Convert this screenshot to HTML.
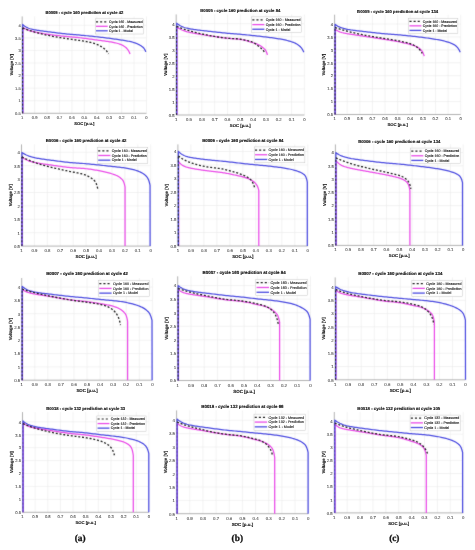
<!DOCTYPE html>
<html><head><meta charset="utf-8"><title>SOC prediction plots</title>
<style>html,body{margin:0;padding:0;background:#fff;width:475px;height:550px;overflow:hidden}svg{display:block}</style>
</head><body>
<svg width="475" height="550" viewBox="0 0 475 550" text-rendering="geometricPrecision" font-family="'Liberation Sans', Arial, sans-serif">
<defs><filter id="bl" x="0" y="0" width="475" height="550" filterUnits="userSpaceOnUse" color-interpolation-filters="sRGB"><feConvolveMatrix order="3" kernelMatrix="1 2 1 2 24 2 1 2 1" divisor="36" edgeMode="duplicate"/></filter></defs>
<rect width="475" height="550" fill="#fff"/>
<g filter="url(#bl)">
<g><path d="M34.63,113.30V16.40M47.06,113.30V16.40M59.49,113.30V16.40M71.92,113.30V16.40M84.35,113.30V16.40M96.78,113.30V16.40M109.21,113.30V16.40M121.64,113.30V16.40M134.07,113.30V16.40M146.50,113.30V16.40M22.20,100.73H146.50M22.20,88.16H146.50M22.20,75.59H146.50M22.20,63.01H146.50M22.20,50.44H146.50M22.20,37.87H146.50M22.20,25.30H146.50" stroke="#e6e6e6" stroke-width="0.50" fill="none"/><path d="M22.20,16.40V113.30H146.50" stroke="#808080" stroke-width="0.60" fill="none"/><path d="M22.95,113.30 L22.95,27.71 L22.97,27.72 L23.02,27.75 L23.12,27.80 L23.25,27.87 L23.42,27.96 L23.62,28.07 L23.86,28.19 L24.14,28.33 L24.45,28.49 L24.80,28.66 L25.19,28.84 L25.61,29.03 L26.07,29.23 L26.56,29.44 L27.09,29.65 L27.65,29.87 L28.25,30.09 L28.88,30.31 L29.54,30.54 L30.24,30.76 L30.97,30.98 L31.73,31.20 L32.52,31.42 L33.34,31.63 L34.19,31.85 L35.07,32.05 L35.98,32.26 L36.92,32.46 L37.89,32.65 L38.88,32.84 L39.90,33.03 L40.94,33.22 L42.01,33.40 L43.10,33.58 L44.22,33.75 L45.36,33.93 L46.52,34.10 L47.70,34.28 L48.90,34.45 L50.12,34.62 L51.36,34.78 L52.62,34.95 L53.89,35.11 L55.18,35.28 L56.48,35.43 L57.80,35.59 L59.13,35.74 L60.47,35.89 L61.83,36.03 L63.19,36.17 L64.56,36.30 L65.95,36.43 L67.34,36.55 L68.73,36.67 L70.13,36.79 L71.54,36.90 L72.94,37.03 L74.36,37.15 L75.77,37.29 L77.18,37.43 L78.59,37.59 L80.01,37.75 L81.41,37.92 L82.82,38.09 L84.22,38.27 L85.61,38.46 L87.00,38.65 L88.39,38.84 L89.76,39.02 L91.12,39.21 L92.48,39.39 L93.82,39.58 L95.15,39.76 L96.47,39.94 L97.77,40.11 L99.06,40.28 L100.33,40.45 L101.59,40.62 L102.83,40.78 L104.05,40.95 L105.25,41.12 L106.43,41.28 L107.59,41.45 L108.73,41.62 L109.85,41.79 L110.94,41.96 L112.01,42.15 L113.05,42.35 L114.07,42.56 L115.06,42.78 L116.03,43.01 L116.97,43.25 L117.88,43.50 L118.76,43.77 L119.61,44.05 L120.43,44.36 L121.22,44.68 L121.98,45.02 L122.71,45.38 L123.41,45.76 L124.07,46.17 L124.70,46.63 L125.30,47.11 L125.86,47.58 L126.39,48.06 L126.88,48.56 L127.34,49.07 L127.76,49.60 L128.15,50.15 L128.50,50.71 L128.81,51.28 L129.09,51.83 L129.33,52.35 L129.53,52.84 L129.70,53.27 L129.83,53.63 L129.93,53.90 L129.98,54.06 L130.00,54.12" stroke="#ea4ae8" stroke-width="1.25" fill="none" stroke-linejoin="round"/><path d="M22.70,113.30 L22.70,24.47 L22.72,24.49 L22.79,24.56 L22.89,24.66 L23.04,24.80 L23.24,24.97 L23.47,25.17 L23.75,25.41 L24.07,25.66 L24.43,25.93 L24.83,26.22 L25.28,26.51 L25.76,26.81 L26.29,27.11 L26.86,27.40 L27.46,27.69 L28.11,27.97 L28.80,28.24 L29.52,28.50 L30.28,28.75 L31.08,28.98 L31.92,29.21 L32.79,29.41 L33.70,29.61 L34.65,29.80 L35.63,29.98 L36.64,30.15 L37.69,30.31 L38.76,30.47 L39.87,30.63 L41.02,30.79 L42.19,30.94 L43.39,31.10 L44.62,31.26 L45.87,31.43 L47.16,31.59 L48.47,31.76 L49.80,31.94 L51.16,32.12 L52.54,32.30 L53.95,32.48 L55.37,32.66 L56.81,32.85 L58.28,33.03 L59.76,33.21 L61.26,33.39 L62.78,33.56 L64.31,33.72 L65.85,33.87 L67.41,34.02 L68.97,34.16 L70.55,34.30 L72.14,34.43 L73.74,34.57 L75.34,34.70 L76.96,34.85 L78.57,34.99 L80.19,35.14 L81.81,35.29 L83.44,35.44 L85.06,35.60 L86.69,35.75 L88.31,35.91 L89.93,36.07 L91.54,36.24 L93.16,36.40 L94.76,36.58 L96.36,36.75 L97.95,36.93 L99.53,37.11 L101.09,37.29 L102.65,37.48 L104.19,37.67 L105.72,37.86 L107.24,38.05 L108.74,38.24 L110.22,38.44 L111.69,38.63 L113.13,38.83 L114.55,39.03 L115.96,39.22 L117.34,39.42 L118.70,39.62 L120.03,39.82 L121.34,40.03 L122.63,40.23 L123.88,40.43 L125.11,40.63 L126.31,40.83 L127.48,41.04 L128.63,41.26 L129.74,41.48 L130.81,41.72 L131.86,41.97 L132.87,42.24 L133.85,42.53 L134.80,42.84 L135.71,43.17 L136.58,43.53 L137.42,43.88 L138.22,44.24 L138.98,44.60 L139.70,45.00 L140.39,45.42 L141.04,45.85 L141.64,46.26 L142.21,46.66 L142.74,47.06 L143.22,47.49 L143.67,47.96 L144.07,48.48 L144.43,49.03 L144.75,49.57 L145.03,50.10 L145.26,50.60 L145.46,51.04 L145.61,51.41 L145.71,51.69 L145.78,51.86 L145.80,51.92" stroke="#4a4ae0" stroke-width="1.25" fill="none" stroke-linejoin="round"/><path d="M22.60,113.30V27.95" stroke="#1e1e1e" stroke-width="1.00" fill="none" stroke-dasharray="2.0,1.8" stroke-opacity="0.95"/><path d="M22.70,27.95 L22.71,27.95 L22.76,27.97 L22.83,28.00 L22.94,28.05 L23.07,28.10 L23.24,28.17 L23.43,28.25 L23.65,28.34 L23.91,28.44 L24.19,28.56 L24.50,28.68 L24.83,28.81 L25.20,28.95 L25.60,29.10 L26.02,29.26 L26.47,29.43 L26.95,29.61 L27.45,29.79 L27.98,29.97 L28.54,30.17 L29.13,30.37 L29.73,30.57 L30.37,30.78 L31.03,30.99 L31.71,31.20 L32.42,31.42 L33.14,31.64 L33.90,31.86 L34.67,32.08 L35.47,32.31 L36.28,32.53 L37.12,32.76 L37.98,32.99 L38.85,33.22 L39.75,33.45 L40.66,33.67 L41.59,33.90 L42.54,34.13 L43.50,34.36 L44.48,34.59 L45.47,34.81 L46.48,35.03 L47.50,35.26 L48.53,35.48 L49.58,35.69 L50.63,35.91 L51.70,36.12 L52.77,36.33 L53.86,36.54 L54.95,36.74 L56.05,36.94 L57.16,37.13 L58.27,37.33 L59.39,37.52 L60.52,37.70 L61.64,37.88 L62.77,38.06 L63.90,38.23 L65.03,38.40 L66.17,38.57 L67.30,38.74 L68.43,38.90 L69.56,39.06 L70.68,39.22 L71.81,39.37 L72.93,39.53 L74.04,39.68 L75.15,39.84 L76.25,39.99 L77.34,40.15 L78.43,40.31 L79.50,40.47 L80.57,40.64 L81.62,40.80 L82.67,40.97 L83.70,41.14 L84.72,41.31 L85.73,41.49 L86.72,41.67 L87.70,41.85 L88.66,42.05 L89.61,42.25 L90.54,42.46 L91.45,42.68 L92.35,42.91 L93.22,43.15 L94.08,43.40 L94.92,43.66 L95.73,43.93 L96.53,44.22 L97.30,44.52 L98.06,44.85 L98.78,45.20 L99.49,45.57 L100.17,45.96 L100.83,46.36 L101.47,46.75 L102.07,47.14 L102.66,47.54 L103.22,47.94 L103.75,48.34 L104.25,48.72 L104.73,49.09 L105.18,49.45 L105.60,49.84 L106.00,50.25 L106.37,50.67 L106.70,51.10 L107.01,51.52 L107.29,51.93 L107.55,52.32 L107.77,52.68 L107.96,53.00 L108.13,53.29 L108.26,53.54 L108.37,53.73 L108.44,53.88 L108.49,53.96 L108.50,53.99" stroke="#1e1e1e" stroke-width="1.30" fill="none" stroke-linejoin="round" stroke-dasharray="2.0,1.8"/><rect x="95.30" y="18.80" width="48.40" height="15.20" fill="#fff" stroke="#bdbdbd" stroke-width="0.45"/><path d="M96.00,21.80H107.70" stroke="#1e1e1e" stroke-width="1.20" stroke-dasharray="2.1,2.0"/><path d="M96.00,26.30H107.70" stroke="#ea4ae8" stroke-width="1.30"/><path d="M96.00,30.80H107.70" stroke="#4a4ae0" stroke-width="1.30"/></g>
<g><path d="M189.02,115.00V14.40M201.84,115.00V14.40M214.66,115.00V14.40M227.48,115.00V14.40M240.30,115.00V14.40M253.12,115.00V14.40M265.94,115.00V14.40M278.76,115.00V14.40M291.58,115.00V14.40M304.40,115.00V14.40M176.20,101.96H304.40M176.20,88.91H304.40M176.20,75.87H304.40M176.20,62.83H304.40M176.20,49.79H304.40M176.20,36.74H304.40M176.20,23.70H304.40" stroke="#e6e6e6" stroke-width="0.50" fill="none"/><path d="M176.20,14.40V115.00H304.40" stroke="#808080" stroke-width="0.60" fill="none"/><path d="M176.95,115.00 L176.95,27.02 L176.97,27.04 L177.01,27.07 L177.09,27.13 L177.20,27.22 L177.34,27.32 L177.52,27.45 L177.72,27.60 L177.95,27.76 L178.22,27.94 L178.52,28.14 L178.84,28.35 L179.20,28.56 L179.59,28.79 L180.00,29.02 L180.45,29.26 L180.92,29.50 L181.43,29.74 L181.96,29.99 L182.52,30.23 L183.11,30.46 L183.72,30.70 L184.37,30.93 L185.03,31.15 L185.73,31.37 L186.45,31.58 L187.19,31.79 L187.96,31.99 L188.75,32.18 L189.57,32.37 L190.41,32.56 L191.27,32.74 L192.15,32.91 L193.05,33.08 L193.98,33.25 L194.92,33.41 L195.88,33.58 L196.86,33.74 L197.86,33.90 L198.88,34.06 L199.91,34.23 L200.95,34.39 L202.02,34.55 L203.09,34.72 L204.18,34.89 L205.28,35.06 L206.40,35.24 L207.52,35.41 L208.65,35.59 L209.80,35.77 L210.95,35.95 L212.11,36.13 L213.28,36.32 L214.45,36.50 L215.63,36.68 L216.81,36.86 L218.00,37.04 L219.19,37.22 L220.38,37.39 L221.58,37.55 L222.77,37.71 L223.97,37.86 L225.16,38.00 L226.35,38.12 L227.54,38.24 L228.72,38.36 L229.90,38.47 L231.07,38.56 L232.24,38.64 L233.40,38.70 L234.55,38.76 L235.70,38.83 L236.83,38.92 L237.95,39.04 L239.07,39.18 L240.17,39.35 L241.26,39.54 L242.33,39.75 L243.40,39.97 L244.44,40.21 L245.47,40.46 L246.49,40.72 L247.49,41.00 L248.47,41.29 L249.43,41.59 L250.37,41.90 L251.30,42.20 L252.20,42.49 L253.08,42.77 L253.94,43.04 L254.78,43.31 L255.60,43.59 L256.39,43.88 L257.16,44.18 L257.90,44.50 L258.62,44.83 L259.32,45.18 L259.98,45.54 L260.63,45.91 L261.24,46.31 L261.83,46.73 L262.39,47.17 L262.92,47.62 L263.43,48.06 L263.90,48.48 L264.35,48.87 L264.76,49.26 L265.15,49.69 L265.51,50.18 L265.83,50.74 L266.13,51.33 L266.40,51.93 L266.63,52.51 L266.83,53.07 L267.01,53.57 L267.15,54.01 L267.26,54.37 L267.34,54.64 L267.38,54.80 L267.40,54.86" stroke="#ea4ae8" stroke-width="1.25" fill="none" stroke-linejoin="round"/><path d="M176.70,115.00 L176.70,23.18 L176.72,23.20 L176.79,23.25 L176.90,23.35 L177.05,23.48 L177.25,23.64 L177.50,23.84 L177.78,24.06 L178.11,24.30 L178.49,24.57 L178.90,24.85 L179.36,25.14 L179.86,25.44 L180.41,25.74 L180.99,26.05 L181.62,26.35 L182.29,26.65 L182.99,26.94 L183.74,27.22 L184.53,27.49 L185.35,27.75 L186.22,28.00 L187.12,28.23 L188.06,28.45 L189.03,28.66 L190.05,28.86 L191.09,29.05 L192.17,29.23 L193.29,29.41 L194.43,29.57 L195.61,29.73 L196.82,29.89 L198.06,30.04 L199.33,30.20 L200.63,30.35 L201.95,30.50 L203.30,30.65 L204.68,30.81 L206.08,30.97 L207.51,31.13 L208.96,31.29 L210.43,31.45 L211.92,31.62 L213.43,31.79 L214.97,31.97 L216.51,32.14 L218.08,32.31 L219.66,32.48 L221.25,32.65 L222.86,32.82 L224.48,32.98 L226.11,33.14 L227.75,33.29 L229.40,33.43 L231.05,33.57 L232.72,33.70 L234.39,33.82 L236.06,33.95 L237.73,34.09 L239.41,34.22 L241.09,34.37 L242.77,34.52 L244.44,34.68 L246.11,34.84 L247.78,35.00 L249.45,35.17 L251.10,35.34 L252.75,35.52 L254.39,35.69 L256.02,35.87 L257.64,36.05 L259.25,36.23 L260.84,36.41 L262.42,36.59 L263.99,36.78 L265.53,36.96 L267.07,37.15 L268.58,37.34 L270.07,37.54 L271.54,37.73 L272.99,37.93 L274.42,38.13 L275.82,38.34 L277.20,38.54 L278.55,38.76 L279.87,38.98 L281.17,39.21 L282.44,39.45 L283.68,39.69 L284.89,39.95 L286.07,40.22 L287.21,40.50 L288.33,40.79 L289.41,41.10 L290.45,41.41 L291.47,41.74 L292.44,42.08 L293.38,42.42 L294.28,42.79 L295.15,43.16 L295.97,43.57 L296.76,43.99 L297.51,44.44 L298.21,44.92 L298.88,45.42 L299.51,45.94 L300.09,46.48 L300.64,47.04 L301.14,47.61 L301.60,48.19 L302.01,48.78 L302.39,49.37 L302.72,49.95 L303.00,50.50 L303.25,51.00 L303.45,51.44 L303.60,51.80 L303.71,52.07 L303.78,52.24 L303.80,52.29" stroke="#4a4ae0" stroke-width="1.25" fill="none" stroke-linejoin="round"/><path d="M176.60,115.00V26.30" stroke="#1e1e1e" stroke-width="1.00" fill="none" stroke-dasharray="2.0,1.8" stroke-opacity="0.95"/><path d="M176.70,26.30 L176.72,26.31 L176.76,26.33 L176.84,26.36 L176.95,26.41 L177.08,26.47 L177.25,26.55 L177.45,26.64 L177.68,26.74 L177.94,26.85 L178.23,26.97 L178.55,27.11 L178.90,27.25 L179.28,27.41 L179.69,27.57 L180.12,27.74 L180.59,27.92 L181.08,28.11 L181.60,28.30 L182.15,28.50 L182.73,28.71 L183.33,28.92 L183.96,29.14 L184.61,29.35 L185.29,29.57 L185.99,29.80 L186.72,30.02 L187.47,30.25 L188.25,30.48 L189.05,30.71 L189.87,30.94 L190.71,31.17 L191.57,31.40 L192.46,31.64 L193.36,31.87 L194.28,32.10 L195.22,32.34 L196.18,32.58 L197.16,32.82 L198.15,33.06 L199.16,33.30 L200.19,33.54 L201.23,33.78 L202.28,34.02 L203.34,34.25 L204.42,34.49 L205.51,34.72 L206.61,34.96 L207.72,35.18 L208.84,35.41 L209.97,35.63 L211.10,35.84 L212.25,36.05 L213.39,36.25 L214.55,36.45 L215.71,36.64 L216.87,36.83 L218.03,37.01 L219.20,37.18 L220.37,37.35 L221.53,37.51 L222.70,37.67 L223.87,37.81 L225.03,37.95 L226.19,38.10 L227.35,38.23 L228.51,38.35 L229.65,38.46 L230.80,38.54 L231.93,38.61 L233.06,38.66 L234.18,38.69 L235.29,38.72 L236.39,38.76 L237.48,38.84 L238.56,38.95 L239.62,39.09 L240.67,39.25 L241.71,39.43 L242.74,39.62 L243.75,39.82 L244.74,40.02 L245.72,40.23 L246.68,40.44 L247.62,40.66 L248.54,40.89 L249.44,41.13 L250.33,41.39 L251.19,41.67 L252.03,41.98 L252.85,42.32 L253.65,42.70 L254.43,43.12 L255.18,43.58 L255.91,44.10 L256.61,44.65 L257.29,45.18 L257.94,45.69 L258.57,46.17 L259.17,46.66 L259.75,47.15 L260.30,47.63 L260.82,48.06 L261.31,48.47 L261.78,48.88 L262.21,49.30 L262.62,49.73 L263.00,50.17 L263.35,50.60 L263.67,51.01 L263.96,51.40 L264.22,51.78 L264.45,52.13 L264.65,52.46 L264.82,52.75 L264.95,53.00 L265.06,53.20 L265.14,53.34 L265.18,53.44 L265.20,53.47" stroke="#1e1e1e" stroke-width="1.30" fill="none" stroke-linejoin="round" stroke-dasharray="2.0,1.8"/><rect x="251.59" y="16.88" width="49.92" height="15.68" fill="#fff" stroke="#bdbdbd" stroke-width="0.45"/><path d="M252.32,19.97H264.38" stroke="#1e1e1e" stroke-width="1.20" stroke-dasharray="2.1,2.0"/><path d="M252.32,24.61H264.38" stroke="#ea4ae8" stroke-width="1.30"/><path d="M252.32,29.25H264.38" stroke="#4a4ae0" stroke-width="1.30"/></g>
<g><path d="M347.21,114.50V14.70M359.82,114.50V14.70M372.43,114.50V14.70M385.04,114.50V14.70M397.65,114.50V14.70M410.26,114.50V14.70M422.87,114.50V14.70M435.48,114.50V14.70M448.09,114.50V14.70M460.70,114.50V14.70M334.60,101.57H460.70M334.60,88.64H460.70M334.60,75.71H460.70M334.60,62.79H460.70M334.60,49.86H460.70M334.60,36.93H460.70M334.60,24.00H460.70" stroke="#e6e6e6" stroke-width="0.50" fill="none"/><path d="M334.60,14.70V114.50H460.70" stroke="#808080" stroke-width="0.60" fill="none"/><path d="M335.35,114.50 L335.35,29.10 L335.37,29.12 L335.41,29.16 L335.49,29.24 L335.60,29.34 L335.74,29.47 L335.91,29.62 L336.11,29.79 L336.34,29.98 L336.60,30.18 L336.89,30.39 L337.21,30.61 L337.56,30.82 L337.94,31.04 L338.35,31.26 L338.79,31.47 L339.25,31.68 L339.75,31.87 L340.27,32.07 L340.82,32.25 L341.40,32.43 L342.00,32.60 L342.63,32.76 L343.29,32.91 L343.97,33.06 L344.68,33.21 L345.41,33.35 L346.17,33.49 L346.94,33.63 L347.75,33.77 L348.57,33.90 L349.42,34.04 L350.28,34.17 L351.17,34.31 L352.08,34.45 L353.00,34.59 L353.95,34.73 L354.91,34.87 L355.89,35.01 L356.89,35.16 L357.90,35.31 L358.93,35.46 L359.97,35.62 L361.03,35.77 L362.10,35.93 L363.18,36.10 L364.28,36.26 L365.38,36.43 L366.49,36.60 L367.62,36.77 L368.75,36.94 L369.89,37.12 L371.04,37.29 L372.19,37.47 L373.35,37.65 L374.51,37.83 L375.68,38.01 L376.85,38.19 L378.02,38.37 L379.19,38.55 L380.36,38.73 L381.53,38.91 L382.70,39.08 L383.87,39.26 L385.04,39.44 L386.20,39.62 L387.36,39.80 L388.51,39.97 L389.66,40.15 L390.80,40.33 L391.93,40.51 L393.06,40.70 L394.17,40.89 L395.27,41.08 L396.37,41.28 L397.45,41.49 L398.52,41.70 L399.58,41.92 L400.62,42.14 L401.65,42.36 L402.66,42.58 L403.66,42.81 L404.64,43.02 L405.60,43.24 L406.55,43.46 L407.47,43.68 L408.38,43.91 L409.27,44.14 L410.13,44.37 L410.98,44.61 L411.80,44.85 L412.61,45.11 L413.38,45.37 L414.14,45.64 L414.87,45.93 L415.58,46.24 L416.26,46.56 L416.92,46.90 L417.55,47.26 L418.15,47.62 L418.73,47.99 L419.28,48.37 L419.80,48.76 L420.30,49.17 L420.76,49.61 L421.20,50.08 L421.61,50.57 L421.99,51.09 L422.34,51.62 L422.66,52.17 L422.95,52.74 L423.21,53.30 L423.44,53.85 L423.64,54.38 L423.81,54.87 L423.95,55.29 L424.06,55.65 L424.14,55.92 L424.18,56.08 L424.20,56.14" stroke="#ea4ae8" stroke-width="1.25" fill="none" stroke-linejoin="round"/><path d="M335.10,114.50 L335.10,24.35 L335.12,24.37 L335.19,24.42 L335.30,24.50 L335.45,24.62 L335.64,24.76 L335.88,24.93 L336.17,25.13 L336.49,25.35 L336.86,25.58 L337.27,25.83 L337.72,26.09 L338.21,26.35 L338.75,26.62 L339.32,26.90 L339.94,27.17 L340.60,27.44 L341.29,27.70 L342.03,27.96 L342.81,28.20 L343.62,28.44 L344.47,28.67 L345.36,28.89 L346.28,29.10 L347.24,29.30 L348.24,29.49 L349.27,29.67 L350.33,29.84 L351.42,30.00 L352.55,30.16 L353.71,30.32 L354.90,30.47 L356.12,30.62 L357.37,30.77 L358.65,30.92 L359.96,31.07 L361.29,31.22 L362.64,31.37 L364.02,31.53 L365.43,31.69 L366.85,31.85 L368.30,32.02 L369.77,32.19 L371.26,32.36 L372.76,32.53 L374.29,32.70 L375.83,32.88 L377.38,33.05 L378.95,33.22 L380.53,33.38 L382.13,33.54 L383.73,33.69 L385.35,33.84 L386.97,33.97 L388.60,34.10 L390.24,34.22 L391.88,34.33 L393.52,34.45 L395.17,34.57 L396.82,34.70 L398.48,34.83 L400.13,34.97 L401.78,35.12 L403.42,35.28 L405.06,35.44 L406.70,35.60 L408.33,35.77 L409.95,35.95 L411.57,36.12 L413.17,36.30 L414.77,36.48 L416.35,36.67 L417.92,36.86 L419.47,37.04 L421.01,37.23 L422.54,37.42 L424.04,37.61 L425.53,37.81 L427.00,38.00 L428.45,38.20 L429.87,38.41 L431.28,38.61 L432.66,38.83 L434.01,39.04 L435.34,39.27 L436.65,39.50 L437.93,39.73 L439.18,39.97 L440.40,40.22 L441.59,40.46 L442.75,40.72 L443.88,40.98 L444.97,41.25 L446.03,41.53 L447.06,41.83 L448.06,42.13 L449.02,42.44 L449.94,42.76 L450.83,43.10 L451.68,43.46 L452.49,43.84 L453.27,44.24 L454.01,44.65 L454.70,45.08 L455.36,45.53 L455.98,46.02 L456.55,46.55 L457.09,47.09 L457.58,47.66 L458.03,48.24 L458.44,48.82 L458.81,49.41 L459.13,49.97 L459.42,50.51 L459.66,51.00 L459.85,51.44 L460.00,51.80 L460.11,52.06 L460.18,52.23 L460.20,52.28" stroke="#4a4ae0" stroke-width="1.25" fill="none" stroke-linejoin="round"/><path d="M335.00,114.50V27.51" stroke="#1e1e1e" stroke-width="1.00" fill="none" stroke-dasharray="2.0,1.8" stroke-opacity="0.95"/><path d="M335.10,27.51 L335.12,27.51 L335.16,27.53 L335.24,27.56 L335.34,27.59 L335.48,27.64 L335.65,27.70 L335.84,27.77 L336.07,27.85 L336.32,27.94 L336.61,28.04 L336.92,28.15 L337.27,28.26 L337.64,28.39 L338.04,28.52 L338.47,28.66 L338.93,28.81 L339.41,28.96 L339.93,29.12 L340.46,29.29 L341.03,29.47 L341.62,29.64 L342.24,29.83 L342.88,30.01 L343.55,30.20 L344.25,30.40 L344.96,30.60 L345.70,30.80 L346.47,31.00 L347.25,31.21 L348.06,31.42 L348.89,31.63 L349.74,31.85 L350.61,32.06 L351.50,32.28 L352.41,32.50 L353.33,32.71 L354.28,32.93 L355.24,33.15 L356.21,33.38 L357.21,33.60 L358.22,33.82 L359.24,34.04 L360.27,34.25 L361.32,34.47 L362.38,34.69 L363.46,34.90 L364.54,35.11 L365.63,35.32 L366.73,35.53 L367.84,35.73 L368.96,35.94 L370.08,36.14 L371.21,36.33 L372.35,36.53 L373.49,36.72 L374.63,36.91 L375.78,37.10 L376.93,37.29 L378.08,37.47 L379.22,37.66 L380.37,37.84 L381.52,38.02 L382.67,38.20 L383.81,38.39 L384.95,38.57 L386.09,38.75 L387.22,38.93 L388.34,39.11 L389.46,39.29 L390.57,39.47 L391.67,39.65 L392.76,39.84 L393.84,40.02 L394.92,40.21 L395.98,40.41 L397.03,40.60 L398.06,40.80 L399.08,41.00 L400.09,41.20 L401.09,41.41 L402.06,41.61 L403.02,41.82 L403.97,42.04 L404.89,42.26 L405.80,42.48 L406.69,42.71 L407.56,42.94 L408.41,43.18 L409.24,43.43 L410.05,43.69 L410.83,43.97 L411.60,44.27 L412.34,44.57 L413.05,44.89 L413.75,45.21 L414.42,45.54 L415.06,45.89 L415.68,46.24 L416.27,46.61 L416.84,47.00 L417.37,47.40 L417.89,47.82 L418.37,48.28 L418.83,48.76 L419.26,49.23 L419.66,49.69 L420.03,50.13 L420.38,50.56 L420.69,50.97 L420.98,51.37 L421.23,51.75 L421.46,52.10 L421.65,52.43 L421.82,52.72 L421.96,52.98 L422.06,53.18 L422.14,53.33 L422.18,53.42 L422.20,53.45" stroke="#1e1e1e" stroke-width="1.30" fill="none" stroke-linejoin="round" stroke-dasharray="2.0,1.8"/><rect x="408.76" y="18.23" width="49.10" height="15.42" fill="#fff" stroke="#bdbdbd" stroke-width="0.45"/><path d="M409.47,21.28H421.34" stroke="#1e1e1e" stroke-width="1.20" stroke-dasharray="2.1,2.0"/><path d="M409.47,25.84H421.34" stroke="#ea4ae8" stroke-width="1.30"/><path d="M409.47,30.41H421.34" stroke="#4a4ae0" stroke-width="1.30"/></g>
<g><path d="M34.42,246.10V144.40M47.34,246.10V144.40M60.26,246.10V144.40M73.18,246.10V144.40M86.10,246.10V144.40M99.02,246.10V144.40M111.94,246.10V144.40M124.86,246.10V144.40M137.78,246.10V144.40M150.70,246.10V144.40M21.50,232.70H150.70M21.50,219.30H150.70M21.50,205.90H150.70M21.50,192.50H150.70M21.50,179.10H150.70M21.50,165.70H150.70M21.50,152.30H150.70" stroke="#e6e6e6" stroke-width="0.50" fill="none"/><path d="M21.50,144.40V246.10H150.70" stroke="#808080" stroke-width="0.60" fill="none"/><path d="M22.25,246.10 L22.25,156.96 L22.27,156.98 L22.32,157.03 L22.41,157.11 L22.54,157.22 L22.70,157.36 L22.89,157.53 L23.13,157.72 L23.39,157.93 L23.69,158.16 L24.03,158.41 L24.40,158.67 L24.81,158.93 L25.25,159.20 L25.72,159.47 L26.23,159.75 L26.77,160.02 L27.34,160.28 L27.95,160.54 L28.58,160.80 L29.25,161.04 L29.95,161.28 L30.68,161.50 L31.44,161.72 L32.23,161.93 L33.04,162.13 L33.89,162.33 L34.76,162.51 L35.66,162.69 L36.59,162.86 L37.55,163.03 L38.52,163.20 L39.53,163.36 L40.55,163.52 L41.60,163.68 L42.67,163.84 L43.77,164.00 L44.88,164.16 L46.02,164.32 L47.17,164.48 L48.34,164.65 L49.53,164.82 L50.74,164.99 L51.96,165.17 L53.20,165.34 L54.45,165.52 L55.72,165.70 L56.99,165.88 L58.28,166.07 L59.58,166.25 L60.89,166.43 L62.21,166.61 L63.54,166.79 L64.87,166.96 L66.21,167.13 L67.56,167.29 L68.91,167.44 L70.26,167.57 L71.62,167.69 L72.97,167.80 L74.33,167.89 L75.68,167.96 L77.04,168.03 L78.39,168.10 L79.74,168.17 L81.09,168.26 L82.43,168.36 L83.76,168.48 L85.09,168.62 L86.41,168.75 L87.72,168.90 L89.02,169.07 L90.31,169.24 L91.58,169.43 L92.85,169.62 L94.10,169.82 L95.34,170.03 L96.56,170.24 L97.77,170.46 L98.96,170.68 L100.13,170.91 L101.28,171.14 L102.42,171.38 L103.53,171.62 L104.63,171.87 L105.70,172.13 L106.75,172.39 L107.77,172.66 L108.78,172.93 L109.75,173.20 L110.71,173.47 L111.64,173.74 L112.54,174.01 L113.41,174.30 L114.26,174.59 L115.07,174.90 L115.86,175.21 L116.62,175.54 L117.35,175.90 L118.05,176.27 L118.72,176.66 L119.35,177.07 L119.96,177.51 L120.53,177.96 L121.07,178.42 L121.58,178.88 L122.05,179.35 L122.49,179.85 L122.90,180.42 L123.27,181.08 L123.61,181.81 L123.91,182.59 L124.17,183.40 L124.41,184.21 L124.60,184.97 L124.76,185.67 L124.89,186.27 L124.98,186.72 L125.03,187.01 L125.05,187.11 L125.05,246.10" stroke="#ea4ae8" stroke-width="1.25" fill="none" stroke-linejoin="round"/><path d="M22.00,246.10 L22.00,152.45 L22.02,152.46 L22.09,152.51 L22.20,152.59 L22.36,152.70 L22.56,152.84 L22.80,153.00 L23.09,153.19 L23.42,153.40 L23.80,153.63 L24.22,153.87 L24.68,154.13 L25.19,154.40 L25.73,154.68 L26.32,154.97 L26.95,155.25 L27.63,155.54 L28.34,155.82 L29.09,156.11 L29.89,156.38 L30.72,156.65 L31.59,156.91 L32.50,157.17 L33.44,157.41 L34.43,157.64 L35.45,157.87 L36.50,158.08 L37.59,158.29 L38.71,158.49 L39.87,158.68 L41.05,158.87 L42.27,159.05 L43.52,159.23 L44.80,159.40 L46.11,159.58 L47.44,159.76 L48.80,159.93 L50.19,160.11 L51.60,160.30 L53.04,160.48 L54.50,160.67 L55.98,160.86 L57.49,161.05 L59.01,161.25 L60.55,161.44 L62.11,161.63 L63.69,161.82 L65.28,162.01 L66.88,162.19 L68.50,162.36 L70.14,162.52 L71.78,162.67 L73.43,162.81 L75.09,162.93 L76.76,163.05 L78.44,163.16 L80.12,163.27 L81.80,163.38 L83.49,163.50 L85.18,163.64 L86.87,163.79 L88.56,163.94 L90.25,164.11 L91.93,164.28 L93.61,164.45 L95.29,164.63 L96.96,164.81 L98.62,164.99 L100.27,165.16 L101.91,165.33 L103.55,165.50 L105.17,165.67 L106.77,165.84 L108.36,166.01 L109.94,166.17 L111.50,166.34 L113.04,166.51 L114.56,166.67 L116.07,166.84 L117.55,167.01 L119.01,167.18 L120.45,167.35 L121.86,167.53 L123.25,167.71 L124.61,167.91 L125.94,168.11 L127.25,168.32 L128.53,168.55 L129.78,168.79 L131.00,169.04 L132.18,169.31 L133.34,169.60 L134.46,169.91 L135.55,170.24 L136.60,170.57 L137.62,170.93 L138.61,171.32 L139.55,171.74 L140.46,172.18 L141.33,172.60 L142.16,173.04 L142.96,173.49 L143.71,173.98 L144.42,174.51 L145.10,175.08 L145.73,175.68 L146.32,176.28 L146.86,176.89 L147.37,177.55 L147.83,178.31 L148.25,179.16 L148.63,180.07 L148.96,181.02 L149.25,181.98 L149.49,182.89 L149.69,183.74 L149.85,184.46 L149.96,185.02 L150.03,185.37 L150.05,185.49 L150.10,246.10" stroke="#4a4ae0" stroke-width="1.25" fill="none" stroke-linejoin="round"/><path d="M21.90,246.10V156.95" stroke="#1e1e1e" stroke-width="1.00" fill="none" stroke-dasharray="2.0,1.8" stroke-opacity="0.95"/><path d="M22.00,156.95 L22.01,156.95 L22.05,156.97 L22.12,157.01 L22.21,157.06 L22.33,157.12 L22.47,157.19 L22.65,157.28 L22.84,157.38 L23.06,157.50 L23.31,157.62 L23.59,157.76 L23.89,157.91 L24.21,158.07 L24.56,158.24 L24.93,158.42 L25.33,158.60 L25.75,158.80 L26.20,159.01 L26.67,159.22 L27.16,159.44 L27.68,159.67 L28.21,159.91 L28.77,160.14 L29.36,160.39 L29.96,160.64 L30.58,160.89 L31.23,161.15 L31.89,161.41 L32.58,161.67 L33.28,161.93 L34.00,162.20 L34.74,162.46 L35.50,162.73 L36.27,163.00 L37.06,163.26 L37.87,163.53 L38.69,163.79 L39.52,164.06 L40.38,164.32 L41.24,164.58 L42.12,164.84 L43.01,165.10 L43.91,165.35 L44.82,165.60 L45.74,165.85 L46.68,166.10 L47.62,166.35 L48.57,166.59 L49.53,166.83 L50.49,167.07 L51.47,167.31 L52.44,167.55 L53.43,167.79 L54.42,168.02 L55.41,168.26 L56.40,168.49 L57.40,168.72 L58.40,168.95 L59.40,169.17 L60.40,169.40 L61.40,169.63 L62.40,169.85 L63.40,170.07 L64.39,170.30 L65.38,170.52 L66.37,170.74 L67.36,170.95 L68.33,171.16 L69.31,171.36 L70.27,171.56 L71.23,171.75 L72.18,171.92 L73.12,172.09 L74.06,172.26 L74.98,172.42 L75.89,172.59 L76.79,172.77 L77.68,172.95 L78.56,173.14 L79.42,173.33 L80.28,173.54 L81.11,173.74 L81.93,173.96 L82.74,174.18 L83.53,174.42 L84.30,174.66 L85.06,174.92 L85.80,175.20 L86.52,175.49 L87.22,175.80 L87.91,176.13 L88.57,176.47 L89.22,176.83 L89.84,177.21 L90.44,177.58 L91.03,177.95 L91.59,178.32 L92.12,178.69 L92.64,179.08 L93.13,179.48 L93.60,179.87 L94.05,180.26 L94.47,180.66 L94.87,181.11 L95.24,181.63 L95.59,182.21 L95.91,182.84 L96.21,183.51 L96.49,184.21 L96.74,184.92 L96.96,185.63 L97.15,186.34 L97.33,187.01 L97.47,187.64 L97.59,188.19 L97.68,188.65 L97.75,189.00 L97.79,189.22 L97.80,189.29" stroke="#1e1e1e" stroke-width="1.30" fill="none" stroke-linejoin="round" stroke-dasharray="2.0,1.8"/><rect x="97.48" y="147.69" width="50.31" height="15.80" fill="#fff" stroke="#bdbdbd" stroke-width="0.45"/><path d="M98.21,150.81H110.37" stroke="#1e1e1e" stroke-width="1.20" stroke-dasharray="2.1,2.0"/><path d="M98.21,155.49H110.37" stroke="#ea4ae8" stroke-width="1.30"/><path d="M98.21,160.17H110.37" stroke="#4a4ae0" stroke-width="1.30"/></g>
<g><path d="M190.89,246.00V144.40M203.88,246.00V144.40M216.87,246.00V144.40M229.86,246.00V144.40M242.85,246.00V144.40M255.84,246.00V144.40M268.83,246.00V144.40M281.82,246.00V144.40M294.81,246.00V144.40M307.80,246.00V144.40M177.90,232.50H307.80M177.90,219.00H307.80M177.90,205.50H307.80M177.90,192.00H307.80M177.90,178.50H307.80M177.90,165.00H307.80M177.90,151.50H307.80" stroke="#e6e6e6" stroke-width="0.50" fill="none"/><path d="M177.90,144.40V246.00H307.80" stroke="#808080" stroke-width="0.60" fill="none"/><path d="M178.65,246.00 L178.65,161.44 L178.66,161.46 L178.71,161.52 L178.78,161.63 L178.87,161.77 L179.00,161.94 L179.15,162.15 L179.33,162.39 L179.54,162.65 L179.78,162.93 L180.04,163.22 L180.33,163.53 L180.64,163.84 L180.99,164.15 L181.36,164.46 L181.75,164.77 L182.17,165.07 L182.62,165.36 L183.09,165.65 L183.59,165.91 L184.11,166.17 L184.65,166.41 L185.22,166.65 L185.81,166.86 L186.43,167.07 L187.07,167.27 L187.73,167.45 L188.41,167.63 L189.11,167.80 L189.83,167.97 L190.58,168.13 L191.34,168.28 L192.12,168.43 L192.92,168.58 L193.74,168.73 L194.57,168.87 L195.43,169.01 L196.30,169.16 L197.18,169.30 L198.08,169.44 L198.99,169.59 L199.92,169.73 L200.86,169.87 L201.82,170.02 L202.78,170.16 L203.76,170.30 L204.74,170.44 L205.74,170.58 L206.74,170.71 L207.76,170.84 L208.78,170.97 L209.81,171.09 L210.84,171.21 L211.88,171.32 L212.93,171.44 L213.98,171.55 L215.03,171.66 L216.08,171.78 L217.14,171.91 L218.20,172.04 L219.25,172.18 L220.31,172.32 L221.37,172.46 L222.42,172.61 L223.47,172.78 L224.52,172.95 L225.57,173.13 L226.61,173.32 L227.64,173.51 L228.67,173.71 L229.69,173.92 L230.71,174.13 L231.71,174.35 L232.71,174.57 L233.69,174.79 L234.67,175.01 L235.63,175.23 L236.59,175.43 L237.53,175.64 L238.46,175.83 L239.37,176.03 L240.27,176.23 L241.15,176.43 L242.02,176.64 L242.88,176.86 L243.71,177.08 L244.53,177.32 L245.33,177.57 L246.11,177.83 L246.87,178.11 L247.62,178.40 L248.34,178.70 L249.04,179.00 L249.72,179.31 L250.38,179.63 L251.02,179.96 L251.64,180.31 L252.23,180.67 L252.80,181.04 L253.34,181.42 L253.86,181.83 L254.36,182.25 L254.83,182.68 L255.28,183.13 L255.70,183.59 L256.09,184.05 L256.46,184.53 L256.81,185.03 L257.12,185.58 L257.41,186.17 L257.67,186.79 L257.91,187.41 L258.12,188.03 L258.30,188.62 L258.45,189.16 L258.58,189.64 L258.67,190.03 L258.74,190.33 L258.79,190.51 L258.80,190.57 L258.80,246.00" stroke="#ea4ae8" stroke-width="1.25" fill="none" stroke-linejoin="round"/><path d="M178.40,246.00 L178.40,151.31 L178.42,151.33 L178.49,151.41 L178.60,151.53 L178.76,151.70 L178.96,151.91 L179.21,152.16 L179.50,152.44 L179.83,152.74 L180.21,153.06 L180.63,153.40 L181.10,153.75 L181.61,154.10 L182.16,154.45 L182.75,154.79 L183.39,155.12 L184.06,155.45 L184.78,155.76 L185.54,156.05 L186.34,156.33 L187.18,156.59 L188.05,156.84 L188.97,157.07 L189.92,157.29 L190.91,157.50 L191.93,157.70 L193.00,157.89 L194.09,158.07 L195.22,158.24 L196.38,158.41 L197.58,158.58 L198.81,158.74 L200.06,158.90 L201.35,159.06 L202.67,159.22 L204.01,159.37 L205.38,159.53 L206.78,159.68 L208.20,159.83 L209.65,159.98 L211.12,160.13 L212.61,160.27 L214.12,160.42 L215.66,160.56 L217.21,160.70 L218.78,160.85 L220.36,161.00 L221.97,161.15 L223.58,161.31 L225.21,161.48 L226.85,161.65 L228.51,161.82 L230.17,162.01 L231.84,162.20 L233.52,162.39 L235.21,162.60 L236.90,162.80 L238.60,163.00 L240.30,163.20 L242.00,163.40 L243.70,163.59 L245.40,163.78 L247.10,163.97 L248.80,164.15 L250.49,164.32 L252.18,164.49 L253.86,164.65 L255.53,164.81 L257.19,164.96 L258.85,165.11 L260.49,165.26 L262.12,165.41 L263.73,165.57 L265.34,165.73 L266.92,165.90 L268.49,166.07 L270.04,166.24 L271.58,166.41 L273.09,166.59 L274.58,166.76 L276.05,166.94 L277.50,167.12 L278.92,167.30 L280.32,167.49 L281.69,167.69 L283.03,167.89 L284.35,168.11 L285.64,168.33 L286.89,168.55 L288.12,168.78 L289.32,169.01 L290.48,169.25 L291.61,169.50 L292.70,169.75 L293.77,170.02 L294.79,170.29 L295.78,170.58 L296.73,170.89 L297.65,171.22 L298.52,171.55 L299.36,171.87 L300.16,172.20 L300.92,172.55 L301.64,172.93 L302.31,173.34 L302.95,173.76 L303.54,174.16 L304.09,174.57 L304.60,175.04 L305.07,175.60 L305.49,176.27 L305.87,177.03 L306.20,177.86 L306.49,178.73 L306.74,179.61 L306.94,180.46 L307.10,181.22 L307.21,181.83 L307.28,182.22 L307.30,182.35 L307.30,246.00" stroke="#4a4ae0" stroke-width="1.25" fill="none" stroke-linejoin="round"/><path d="M178.30,246.00V155.91" stroke="#1e1e1e" stroke-width="1.00" fill="none" stroke-dasharray="2.0,1.8" stroke-opacity="0.95"/><path d="M178.40,155.91 L178.41,155.92 L178.45,155.95 L178.52,156.01 L178.61,156.09 L178.73,156.19 L178.88,156.31 L179.05,156.45 L179.25,156.61 L179.47,156.78 L179.73,156.98 L180.00,157.19 L180.30,157.41 L180.63,157.65 L180.98,157.89 L181.36,158.15 L181.76,158.41 L182.19,158.69 L182.64,158.97 L183.11,159.25 L183.61,159.53 L184.13,159.82 L184.67,160.11 L185.24,160.40 L185.82,160.69 L186.43,160.98 L187.06,161.27 L187.71,161.55 L188.38,161.83 L189.07,162.11 L189.78,162.38 L190.51,162.65 L191.26,162.92 L192.02,163.18 L192.80,163.44 L193.60,163.69 L194.41,163.94 L195.24,164.19 L196.09,164.43 L196.94,164.66 L197.82,164.90 L198.70,165.12 L199.60,165.35 L200.51,165.57 L201.43,165.78 L202.36,165.98 L203.30,166.18 L204.26,166.38 L205.21,166.56 L206.18,166.73 L207.16,166.90 L208.14,167.05 L209.13,167.20 L210.12,167.34 L211.12,167.47 L212.12,167.59 L213.12,167.71 L214.13,167.84 L215.14,167.96 L216.15,168.08 L217.15,168.20 L218.16,168.33 L219.17,168.47 L220.18,168.61 L221.18,168.78 L222.18,168.95 L223.18,169.14 L224.17,169.34 L225.16,169.56 L226.14,169.78 L227.12,170.01 L228.09,170.26 L229.04,170.51 L230.00,170.78 L230.94,171.05 L231.87,171.33 L232.79,171.61 L233.70,171.89 L234.60,172.16 L235.48,172.43 L236.36,172.70 L237.21,172.96 L238.06,173.23 L238.89,173.51 L239.70,173.79 L240.50,174.08 L241.28,174.37 L242.04,174.66 L242.79,174.94 L243.52,175.23 L244.23,175.53 L244.92,175.84 L245.59,176.17 L246.24,176.51 L246.87,176.87 L247.48,177.23 L248.06,177.60 L248.63,177.96 L249.17,178.33 L249.69,178.72 L250.19,179.16 L250.66,179.63 L251.11,180.13 L251.54,180.66 L251.94,181.24 L252.32,181.87 L252.67,182.53 L253.00,183.21 L253.30,183.89 L253.57,184.57 L253.83,185.23 L254.05,185.86 L254.25,186.46 L254.42,187.02 L254.57,187.52 L254.69,187.95 L254.78,188.29 L254.85,188.55 L254.89,188.71 L254.90,188.76" stroke="#1e1e1e" stroke-width="1.30" fill="none" stroke-linejoin="round" stroke-dasharray="2.0,1.8"/><rect x="254.29" y="146.91" width="50.58" height="15.88" fill="#fff" stroke="#bdbdbd" stroke-width="0.45"/><path d="M255.02,150.04H267.25" stroke="#1e1e1e" stroke-width="1.20" stroke-dasharray="2.1,2.0"/><path d="M255.02,154.75H267.25" stroke="#ea4ae8" stroke-width="1.30"/><path d="M255.02,159.45H267.25" stroke="#4a4ae0" stroke-width="1.30"/></g>
<g><path d="M348.18,245.40V144.40M360.96,245.40V144.40M373.74,245.40V144.40M386.52,245.40V144.40M399.30,245.40V144.40M412.08,245.40V144.40M424.86,245.40V144.40M437.64,245.40V144.40M450.42,245.40V144.40M463.20,245.40V144.40M335.40,232.14H463.20M335.40,218.89H463.20M335.40,205.63H463.20M335.40,192.37H463.20M335.40,179.11H463.20M335.40,165.86H463.20M335.40,152.60H463.20" stroke="#e6e6e6" stroke-width="0.50" fill="none"/><path d="M335.40,144.40V245.40H463.20" stroke="#808080" stroke-width="0.60" fill="none"/><path d="M336.15,245.40 L336.15,160.51 L336.16,160.52 L336.20,160.58 L336.27,160.67 L336.36,160.79 L336.47,160.95 L336.61,161.14 L336.78,161.35 L336.97,161.59 L337.19,161.85 L337.43,162.12 L337.69,162.41 L337.98,162.70 L338.30,163.01 L338.64,163.31 L339.00,163.62 L339.39,163.93 L339.80,164.23 L340.24,164.52 L340.69,164.81 L341.17,165.09 L341.67,165.36 L342.20,165.62 L342.74,165.87 L343.31,166.11 L343.89,166.35 L344.50,166.57 L345.13,166.78 L345.77,166.99 L346.44,167.18 L347.12,167.38 L347.82,167.56 L348.54,167.74 L349.28,167.92 L350.03,168.09 L350.80,168.27 L351.59,168.44 L352.39,168.61 L353.20,168.77 L354.03,168.94 L354.87,169.11 L355.72,169.27 L356.59,169.44 L357.47,169.61 L358.35,169.78 L359.25,169.95 L360.16,170.12 L361.08,170.29 L362.00,170.46 L362.93,170.63 L363.87,170.81 L364.82,170.98 L365.77,171.15 L366.73,171.32 L367.69,171.49 L368.65,171.67 L369.62,171.84 L370.59,172.01 L371.57,172.19 L372.54,172.36 L373.51,172.53 L374.48,172.71 L375.46,172.89 L376.43,173.06 L377.40,173.24 L378.36,173.42 L379.32,173.60 L380.28,173.78 L381.23,173.96 L382.18,174.14 L383.12,174.32 L384.05,174.50 L384.97,174.68 L385.89,174.86 L386.80,175.04 L387.70,175.22 L388.58,175.41 L389.46,175.60 L390.33,175.79 L391.18,175.98 L392.02,176.17 L392.85,176.36 L393.66,176.55 L394.46,176.74 L395.25,176.93 L396.02,177.11 L396.77,177.30 L397.51,177.49 L398.23,177.69 L398.93,177.90 L399.61,178.13 L400.28,178.38 L400.92,178.63 L401.55,178.88 L402.16,179.13 L402.74,179.39 L403.31,179.66 L403.85,179.95 L404.38,180.26 L404.88,180.58 L405.36,180.91 L405.81,181.25 L406.25,181.61 L406.66,182.00 L407.05,182.40 L407.41,182.85 L407.75,183.34 L408.07,183.88 L408.36,184.47 L408.62,185.11 L408.86,185.80 L409.08,186.52 L409.27,187.27 L409.44,188.02 L409.58,188.76 L409.69,189.45 L409.78,190.04 L409.85,190.50 L409.89,190.80 L409.90,190.90 L409.90,245.40" stroke="#ea4ae8" stroke-width="1.25" fill="none" stroke-linejoin="round"/><path d="M335.90,245.40 L335.90,152.62 L335.92,152.63 L335.99,152.69 L336.10,152.77 L336.25,152.89 L336.45,153.04 L336.69,153.22 L336.98,153.42 L337.31,153.65 L337.68,153.89 L338.09,154.15 L338.55,154.43 L339.05,154.71 L339.59,155.00 L340.17,155.29 L340.80,155.58 L341.46,155.87 L342.17,156.15 L342.91,156.43 L343.70,156.70 L344.52,156.96 L345.38,157.22 L346.28,157.46 L347.21,157.70 L348.19,157.93 L349.19,158.14 L350.24,158.35 L351.31,158.56 L352.42,158.75 L353.56,158.94 L354.74,159.13 L355.94,159.31 L357.18,159.49 L358.44,159.66 L359.73,159.84 L361.05,160.01 L362.40,160.19 L363.77,160.37 L365.17,160.54 L366.59,160.72 L368.03,160.90 L369.50,161.08 L370.98,161.27 L372.49,161.45 L374.01,161.64 L375.56,161.83 L377.11,162.01 L378.69,162.20 L380.28,162.38 L381.88,162.55 L383.49,162.72 L385.11,162.88 L386.75,163.04 L388.39,163.18 L390.04,163.31 L391.70,163.44 L393.36,163.57 L395.03,163.71 L396.69,163.85 L398.36,164.00 L400.04,164.15 L401.71,164.32 L403.37,164.49 L405.04,164.66 L406.70,164.84 L408.36,165.02 L410.01,165.20 L411.65,165.38 L413.29,165.56 L414.91,165.75 L416.52,165.94 L418.12,166.13 L419.71,166.32 L421.29,166.51 L422.84,166.71 L424.39,166.90 L425.91,167.09 L427.42,167.29 L428.90,167.48 L430.37,167.68 L431.81,167.88 L433.23,168.09 L434.63,168.30 L436.00,168.52 L437.35,168.74 L438.67,168.97 L439.96,169.20 L441.22,169.45 L442.46,169.70 L443.66,169.95 L444.84,170.20 L445.98,170.46 L447.09,170.71 L448.16,170.96 L449.21,171.23 L450.21,171.50 L451.19,171.78 L452.12,172.07 L453.02,172.37 L453.88,172.69 L454.70,173.03 L455.49,173.40 L456.23,173.77 L456.94,174.16 L457.60,174.55 L458.23,174.88 L458.81,175.24 L459.35,175.70 L459.85,176.26 L460.31,176.88 L460.72,177.56 L461.09,178.29 L461.42,179.04 L461.71,179.81 L461.95,180.56 L462.15,181.25 L462.30,181.85 L462.41,182.32 L462.48,182.61 L462.50,182.72 L462.50,245.40" stroke="#4a4ae0" stroke-width="1.25" fill="none" stroke-linejoin="round"/><path d="M335.80,245.40V157.93" stroke="#1e1e1e" stroke-width="1.00" fill="none" stroke-dasharray="2.0,1.8" stroke-opacity="0.95"/><path d="M335.90,157.93 L335.91,157.93 L335.95,157.95 L336.02,157.98 L336.11,158.02 L336.23,158.07 L336.37,158.14 L336.54,158.21 L336.73,158.30 L336.95,158.39 L337.20,158.50 L337.47,158.62 L337.77,158.74 L338.09,158.88 L338.43,159.02 L338.80,159.18 L339.20,159.34 L339.61,159.51 L340.05,159.69 L340.52,159.87 L341.01,160.07 L341.52,160.27 L342.05,160.47 L342.60,160.68 L343.18,160.90 L343.78,161.12 L344.39,161.34 L345.03,161.57 L345.69,161.81 L346.36,162.04 L347.06,162.28 L347.77,162.52 L348.50,162.77 L349.25,163.02 L350.02,163.26 L350.80,163.51 L351.60,163.76 L352.41,164.01 L353.24,164.27 L354.08,164.52 L354.94,164.77 L355.80,165.02 L356.68,165.27 L357.58,165.52 L358.48,165.77 L359.39,166.02 L360.32,166.27 L361.25,166.51 L362.19,166.75 L363.14,166.99 L364.09,167.23 L365.06,167.47 L366.02,167.70 L367.00,167.93 L367.97,168.16 L368.96,168.39 L369.94,168.62 L370.93,168.84 L371.92,169.06 L372.91,169.28 L373.89,169.50 L374.88,169.71 L375.87,169.93 L376.86,170.14 L377.84,170.35 L378.83,170.57 L379.80,170.78 L380.78,170.99 L381.74,171.21 L382.71,171.43 L383.66,171.65 L384.61,171.87 L385.55,172.09 L386.48,172.31 L387.41,172.52 L388.32,172.73 L389.22,172.94 L390.12,173.14 L391.00,173.34 L391.86,173.53 L392.72,173.72 L393.56,173.91 L394.39,174.11 L395.20,174.31 L396.00,174.52 L396.78,174.73 L397.55,174.95 L398.30,175.18 L399.03,175.42 L399.74,175.67 L400.44,175.92 L401.11,176.19 L401.77,176.46 L402.41,176.74 L403.02,177.04 L403.62,177.36 L404.20,177.69 L404.75,178.06 L405.28,178.45 L405.79,178.87 L406.28,179.30 L406.75,179.72 L407.19,180.16 L407.60,180.62 L408.00,181.10 L408.37,181.61 L408.71,182.15 L409.03,182.72 L409.33,183.33 L409.60,183.96 L409.85,184.63 L410.07,185.31 L410.26,185.99 L410.43,186.65 L410.57,187.28 L410.69,187.83 L410.78,188.30 L410.85,188.66 L410.89,188.88 L410.90,188.95" stroke="#1e1e1e" stroke-width="1.30" fill="none" stroke-linejoin="round" stroke-dasharray="2.0,1.8"/><rect x="410.56" y="148.07" width="49.76" height="15.63" fill="#fff" stroke="#bdbdbd" stroke-width="0.45"/><path d="M411.28,151.15H423.31" stroke="#1e1e1e" stroke-width="1.20" stroke-dasharray="2.1,2.0"/><path d="M411.28,155.78H423.31" stroke="#ea4ae8" stroke-width="1.30"/><path d="M411.28,160.41H423.31" stroke="#4a4ae0" stroke-width="1.30"/></g>
<g><path d="M34.77,380.20V278.00M47.84,380.20V278.00M60.91,380.20V278.00M73.98,380.20V278.00M87.05,380.20V278.00M100.12,380.20V278.00M113.19,380.20V278.00M126.26,380.20V278.00M139.33,380.20V278.00M152.40,380.20V278.00M21.70,366.90H152.40M21.70,353.60H152.40M21.70,340.30H152.40M21.70,327.00H152.40M21.70,313.70H152.40M21.70,300.40H152.40M21.70,287.10H152.40" stroke="#e6e6e6" stroke-width="0.50" fill="none"/><path d="M21.70,278.00V380.20H152.40" stroke="#808080" stroke-width="0.60" fill="none"/><path d="M22.45,380.20 L22.45,289.67 L22.47,289.68 L22.52,289.72 L22.61,289.79 L22.74,289.87 L22.91,289.98 L23.11,290.12 L23.35,290.27 L23.62,290.43 L23.93,290.61 L24.27,290.81 L24.65,291.01 L25.07,291.22 L25.52,291.43 L26.00,291.65 L26.52,291.86 L27.07,292.08 L27.66,292.29 L28.28,292.50 L28.93,292.71 L29.61,292.91 L30.32,293.10 L31.07,293.29 L31.85,293.48 L32.65,293.66 L33.49,293.83 L34.36,294.00 L35.25,294.16 L36.17,294.32 L37.12,294.48 L38.10,294.64 L39.10,294.80 L40.12,294.95 L41.17,295.11 L42.25,295.27 L43.34,295.43 L44.46,295.60 L45.60,295.77 L46.76,295.95 L47.94,296.13 L49.14,296.32 L50.36,296.51 L51.59,296.72 L52.84,296.92 L54.11,297.14 L55.39,297.36 L56.68,297.59 L57.99,297.82 L59.31,298.05 L60.64,298.29 L61.98,298.52 L63.33,298.76 L64.68,298.99 L66.05,299.22 L67.42,299.44 L68.79,299.65 L70.17,299.86 L71.56,300.04 L72.94,300.22 L74.33,300.38 L75.72,300.52 L77.11,300.65 L78.49,300.78 L79.88,300.90 L81.26,301.03 L82.63,301.17 L84.00,301.32 L85.37,301.47 L86.72,301.64 L88.07,301.81 L89.41,301.99 L90.74,302.18 L92.06,302.37 L93.37,302.56 L94.66,302.76 L95.94,302.97 L97.21,303.17 L98.46,303.37 L99.69,303.57 L100.91,303.77 L102.11,303.98 L103.29,304.18 L104.45,304.39 L105.59,304.59 L106.71,304.80 L107.80,305.01 L108.88,305.23 L109.93,305.45 L110.95,305.68 L111.95,305.93 L112.93,306.20 L113.88,306.50 L114.80,306.80 L115.69,307.12 L116.56,307.45 L117.40,307.79 L118.20,308.16 L118.98,308.56 L119.73,308.98 L120.44,309.39 L121.12,309.80 L121.77,310.25 L122.39,310.76 L122.98,311.31 L123.53,311.81 L124.05,312.31 L124.53,312.81 L124.98,313.34 L125.40,313.94 L125.78,314.62 L126.12,315.39 L126.43,316.22 L126.70,317.09 L126.94,317.98 L127.14,318.83 L127.31,319.63 L127.44,320.32 L127.53,320.85 L127.58,321.19 L127.60,321.30 L127.60,380.20" stroke="#ea4ae8" stroke-width="1.25" fill="none" stroke-linejoin="round"/><path d="M22.20,380.20 L22.20,286.38 L22.22,286.40 L22.29,286.46 L22.40,286.56 L22.56,286.70 L22.76,286.87 L23.01,287.08 L23.31,287.31 L23.64,287.57 L24.02,287.84 L24.45,288.14 L24.92,288.44 L25.43,288.75 L25.98,289.07 L26.58,289.38 L27.22,289.70 L27.90,290.00 L28.63,290.30 L29.39,290.58 L30.19,290.86 L31.04,291.12 L31.92,291.37 L32.84,291.61 L33.80,291.83 L34.80,292.04 L35.83,292.24 L36.90,292.43 L38.00,292.61 L39.14,292.79 L40.31,292.95 L41.51,293.12 L42.75,293.27 L44.01,293.43 L45.31,293.59 L46.64,293.74 L47.99,293.90 L49.37,294.07 L50.78,294.23 L52.21,294.40 L53.67,294.57 L55.15,294.75 L56.65,294.93 L58.17,295.11 L59.72,295.30 L61.28,295.49 L62.86,295.67 L64.46,295.86 L66.07,296.04 L67.70,296.22 L69.34,296.39 L70.99,296.56 L72.66,296.72 L74.33,296.87 L76.02,297.02 L77.71,297.16 L79.41,297.30 L81.11,297.45 L82.82,297.60 L84.53,297.77 L86.24,297.94 L87.96,298.12 L89.67,298.31 L91.38,298.50 L93.09,298.69 L94.79,298.88 L96.49,299.06 L98.18,299.24 L99.87,299.41 L101.54,299.57 L103.21,299.73 L104.86,299.88 L106.50,300.03 L108.13,300.17 L109.74,300.32 L111.34,300.47 L112.92,300.63 L114.48,300.78 L116.03,300.95 L117.55,301.12 L119.05,301.30 L120.53,301.50 L121.99,301.72 L123.42,301.96 L124.83,302.21 L126.21,302.48 L127.56,302.75 L128.89,303.04 L130.19,303.34 L131.45,303.65 L132.69,303.97 L133.89,304.31 L135.06,304.65 L136.20,305.02 L137.30,305.39 L138.37,305.77 L139.40,306.16 L140.40,306.56 L141.36,306.98 L142.28,307.42 L143.16,307.88 L144.01,308.37 L144.81,308.88 L145.57,309.43 L146.30,310.01 L146.98,310.62 L147.62,311.21 L148.22,311.75 L148.77,312.33 L149.28,313.04 L149.75,313.86 L150.18,314.75 L150.56,315.66 L150.89,316.57 L151.19,317.46 L151.44,318.29 L151.64,319.03 L151.80,319.65 L151.91,320.12 L151.98,320.42 L152.00,320.52 L152.10,380.20" stroke="#4a4ae0" stroke-width="1.25" fill="none" stroke-linejoin="round"/><path d="M22.10,380.20V289.10" stroke="#1e1e1e" stroke-width="1.00" fill="none" stroke-dasharray="2.0,1.8" stroke-opacity="0.95"/><path d="M22.20,289.10 L22.22,289.10 L22.27,289.12 L22.35,289.15 L22.47,289.19 L22.63,289.25 L22.82,289.31 L23.04,289.39 L23.29,289.48 L23.58,289.58 L23.90,289.69 L24.26,289.81 L24.65,289.94 L25.07,290.07 L25.52,290.22 L26.00,290.37 L26.52,290.54 L27.07,290.71 L27.65,290.88 L28.25,291.06 L28.89,291.25 L29.56,291.44 L30.26,291.63 L30.99,291.83 L31.74,292.03 L32.52,292.24 L33.33,292.45 L34.17,292.66 L35.03,292.87 L35.91,293.08 L36.83,293.30 L37.76,293.51 L38.72,293.73 L39.70,293.95 L40.71,294.17 L41.73,294.40 L42.78,294.62 L43.84,294.85 L44.93,295.08 L46.03,295.31 L47.15,295.55 L48.29,295.79 L49.44,296.03 L50.61,296.27 L51.79,296.51 L52.99,296.75 L54.20,297.00 L55.42,297.24 L56.66,297.49 L57.90,297.73 L59.15,297.97 L60.41,298.21 L61.68,298.45 L62.96,298.68 L64.24,298.91 L65.52,299.13 L66.82,299.36 L68.11,299.57 L69.40,299.79 L70.70,299.99 L72.00,300.19 L73.30,300.39 L74.59,300.58 L75.88,300.76 L77.18,300.93 L78.46,301.09 L79.74,301.25 L81.02,301.41 L82.29,301.58 L83.55,301.74 L84.80,301.90 L86.04,302.07 L87.28,302.25 L88.50,302.44 L89.71,302.62 L90.91,302.81 L92.09,303.00 L93.26,303.19 L94.41,303.37 L95.55,303.55 L96.67,303.72 L97.77,303.89 L98.86,304.08 L99.92,304.29 L100.97,304.52 L101.99,304.78 L103.00,305.06 L103.98,305.35 L104.94,305.66 L105.87,305.99 L106.79,306.34 L107.67,306.70 L108.53,307.10 L109.37,307.51 L110.18,307.95 L110.96,308.43 L111.71,308.93 L112.44,309.47 L113.14,310.04 L113.81,310.65 L114.45,311.30 L115.05,311.97 L115.63,312.67 L116.18,313.40 L116.70,314.17 L117.18,314.96 L117.63,315.77 L118.05,316.62 L118.44,317.50 L118.80,318.41 L119.12,319.34 L119.41,320.29 L119.66,321.23 L119.88,322.12 L120.07,322.96 L120.23,323.69 L120.35,324.30 L120.43,324.76 L120.48,325.05 L120.50,325.14" stroke="#1e1e1e" stroke-width="1.30" fill="none" stroke-linejoin="round" stroke-dasharray="2.0,1.8"/><rect x="98.56" y="280.52" width="50.89" height="15.98" fill="#fff" stroke="#bdbdbd" stroke-width="0.45"/><path d="M99.30,283.68H111.60" stroke="#1e1e1e" stroke-width="1.20" stroke-dasharray="2.1,2.0"/><path d="M99.30,288.41H111.60" stroke="#ea4ae8" stroke-width="1.30"/><path d="M99.30,293.14H111.60" stroke="#4a4ae0" stroke-width="1.30"/></g>
<g><path d="M190.98,380.50V276.30M204.26,380.50V276.30M217.54,380.50V276.30M230.82,380.50V276.30M244.10,380.50V276.30M257.38,380.50V276.30M270.66,380.50V276.30M283.94,380.50V276.30M297.22,380.50V276.30M310.50,380.50V276.30M177.70,366.94H310.50M177.70,353.39H310.50M177.70,339.83H310.50M177.70,326.27H310.50M177.70,312.71H310.50M177.70,299.16H310.50M177.70,285.60H310.50" stroke="#e6e6e6" stroke-width="0.50" fill="none"/><path d="M177.70,276.30V380.50H310.50" stroke="#808080" stroke-width="0.60" fill="none"/><path d="M178.45,380.50 L178.45,289.60 L178.47,289.62 L178.52,289.67 L178.61,289.75 L178.73,289.86 L178.89,290.00 L179.08,290.16 L179.31,290.34 L179.57,290.54 L179.87,290.76 L180.20,290.98 L180.57,291.21 L180.97,291.45 L181.40,291.68 L181.87,291.92 L182.36,292.15 L182.90,292.37 L183.46,292.59 L184.05,292.79 L184.68,292.99 L185.34,293.19 L186.03,293.37 L186.74,293.55 L187.49,293.72 L188.27,293.88 L189.07,294.04 L189.90,294.19 L190.76,294.34 L191.65,294.49 L192.56,294.64 L193.50,294.78 L194.46,294.93 L195.45,295.08 L196.46,295.22 L197.49,295.37 L198.55,295.53 L199.62,295.68 L200.72,295.84 L201.84,296.01 L202.97,296.18 L204.12,296.35 L205.29,296.54 L206.48,296.72 L207.68,296.91 L208.90,297.11 L210.13,297.31 L211.38,297.52 L212.64,297.73 L213.91,297.94 L215.18,298.16 L216.47,298.38 L217.77,298.60 L219.08,298.81 L220.39,299.03 L221.71,299.24 L223.03,299.44 L224.36,299.63 L225.69,299.81 L227.02,299.98 L228.36,300.13 L229.69,300.26 L231.03,300.37 L232.36,300.48 L233.69,300.58 L235.02,300.69 L236.34,300.80 L237.66,300.94 L238.97,301.09 L240.28,301.24 L241.58,301.41 L242.87,301.59 L244.14,301.79 L245.41,302.01 L246.67,302.24 L247.92,302.48 L249.15,302.73 L250.37,302.99 L251.57,303.26 L252.76,303.53 L253.93,303.80 L255.08,304.07 L256.21,304.33 L257.33,304.57 L258.43,304.81 L259.50,305.04 L260.56,305.26 L261.59,305.50 L262.60,305.74 L263.59,306.00 L264.55,306.28 L265.49,306.59 L266.40,306.92 L267.29,307.26 L268.15,307.63 L268.98,308.00 L269.78,308.41 L270.56,308.85 L271.31,309.31 L272.02,309.78 L272.71,310.23 L273.37,310.70 L274.00,311.19 L274.59,311.72 L275.15,312.27 L275.69,312.82 L276.18,313.36 L276.65,313.88 L277.08,314.44 L277.48,315.08 L277.85,315.82 L278.18,316.65 L278.48,317.52 L278.74,318.40 L278.97,319.27 L279.16,320.09 L279.32,320.83 L279.44,321.46 L279.53,321.93 L279.58,322.23 L279.60,322.33 L279.60,380.50" stroke="#ea4ae8" stroke-width="1.25" fill="none" stroke-linejoin="round"/><path d="M178.20,380.50 L178.20,285.63 L178.22,285.65 L178.29,285.71 L178.41,285.81 L178.57,285.94 L178.77,286.11 L179.03,286.30 L179.32,286.53 L179.67,286.77 L180.05,287.04 L180.48,287.32 L180.96,287.61 L181.48,287.91 L182.05,288.20 L182.65,288.50 L183.30,288.80 L184.00,289.09 L184.73,289.37 L185.51,289.64 L186.32,289.90 L187.18,290.15 L188.08,290.39 L189.01,290.61 L189.99,290.83 L191.00,291.04 L192.05,291.23 L193.14,291.42 L194.26,291.60 L195.41,291.77 L196.60,291.94 L197.83,292.11 L199.08,292.27 L200.37,292.43 L201.68,292.60 L203.03,292.76 L204.41,292.93 L205.81,293.10 L207.24,293.27 L208.69,293.45 L210.17,293.63 L211.68,293.82 L213.21,294.00 L214.75,294.20 L216.32,294.39 L217.91,294.58 L219.52,294.78 L221.14,294.97 L222.78,295.16 L224.43,295.35 L226.10,295.53 L227.78,295.71 L229.47,295.88 L231.18,296.04 L232.89,296.20 L234.61,296.36 L236.33,296.52 L238.06,296.69 L239.80,296.86 L241.54,297.05 L243.28,297.24 L245.02,297.44 L246.76,297.64 L248.50,297.84 L250.24,298.04 L251.97,298.25 L253.69,298.45 L255.41,298.64 L257.12,298.83 L258.83,299.01 L260.52,299.19 L262.20,299.36 L263.87,299.53 L265.52,299.69 L267.16,299.86 L268.78,300.03 L270.39,300.21 L271.98,300.39 L273.55,300.57 L275.09,300.76 L276.62,300.96 L278.13,301.16 L279.61,301.38 L281.06,301.59 L282.49,301.82 L283.89,302.05 L285.27,302.30 L286.62,302.56 L287.93,302.83 L289.22,303.11 L290.47,303.41 L291.70,303.72 L292.89,304.05 L294.04,304.41 L295.16,304.78 L296.25,305.16 L297.30,305.57 L298.31,306.00 L299.29,306.46 L300.22,306.93 L301.12,307.39 L301.98,307.83 L302.79,308.28 L303.57,308.74 L304.30,309.25 L305.00,309.80 L305.65,310.32 L306.25,310.76 L306.82,311.24 L307.34,311.88 L307.82,312.64 L308.25,313.49 L308.63,314.38 L308.98,315.29 L309.27,316.19 L309.53,317.05 L309.73,317.82 L309.89,318.48 L310.01,318.98 L310.08,319.29 L310.10,319.40 L310.10,380.50" stroke="#4a4ae0" stroke-width="1.25" fill="none" stroke-linejoin="round"/><path d="M178.10,380.50V288.47" stroke="#1e1e1e" stroke-width="1.00" fill="none" stroke-dasharray="2.0,1.8" stroke-opacity="0.95"/><path d="M178.20,288.47 L178.22,288.47 L178.27,288.49 L178.36,288.52 L178.48,288.57 L178.64,288.63 L178.83,288.70 L179.05,288.78 L179.31,288.88 L179.61,288.98 L179.94,289.10 L180.30,289.23 L180.69,289.36 L181.12,289.51 L181.58,289.67 L182.08,289.83 L182.60,290.00 L183.16,290.18 L183.75,290.37 L184.37,290.56 L185.02,290.75 L185.70,290.96 L186.42,291.16 L187.16,291.37 L187.92,291.58 L188.72,291.80 L189.55,292.01 L190.40,292.23 L191.28,292.45 L192.18,292.67 L193.11,292.90 L194.06,293.12 L195.04,293.35 L196.04,293.57 L197.06,293.80 L198.11,294.03 L199.17,294.27 L200.26,294.50 L201.37,294.74 L202.49,294.99 L203.63,295.23 L204.79,295.48 L205.97,295.72 L207.16,295.97 L208.37,296.22 L209.59,296.47 L210.82,296.73 L212.07,296.97 L213.32,297.22 L214.59,297.47 L215.87,297.71 L217.15,297.94 L218.44,298.17 L219.74,298.40 L221.05,298.62 L222.36,298.83 L223.68,299.03 L225.00,299.22 L226.32,299.40 L227.64,299.56 L228.96,299.71 L230.28,299.85 L231.60,299.97 L232.92,300.09 L234.24,300.20 L235.55,300.32 L236.86,300.44 L238.16,300.57 L239.45,300.70 L240.73,300.84 L242.01,300.99 L243.28,301.16 L244.53,301.34 L245.78,301.53 L247.01,301.74 L248.23,301.95 L249.44,302.17 L250.63,302.40 L251.81,302.63 L252.97,302.88 L254.11,303.13 L255.23,303.38 L256.34,303.63 L257.43,303.89 L258.49,304.14 L259.54,304.40 L260.56,304.67 L261.56,304.95 L262.54,305.24 L263.49,305.54 L264.42,305.86 L265.32,306.19 L266.20,306.54 L267.05,306.92 L267.88,307.33 L268.68,307.77 L269.44,308.26 L270.18,308.78 L270.90,309.35 L271.58,309.95 L272.23,310.60 L272.85,311.27 L273.44,311.94 L274.00,312.62 L274.52,313.36 L275.02,314.16 L275.48,315.02 L275.91,315.93 L276.30,316.88 L276.66,317.85 L276.99,318.84 L277.29,319.83 L277.55,320.81 L277.77,321.75 L277.96,322.62 L278.12,323.39 L278.24,324.03 L278.33,324.51 L278.38,324.81 L278.40,324.91" stroke="#1e1e1e" stroke-width="1.30" fill="none" stroke-linejoin="round" stroke-dasharray="2.0,1.8"/><rect x="255.80" y="279.46" width="51.71" height="16.24" fill="#fff" stroke="#bdbdbd" stroke-width="0.45"/><path d="M256.55,282.67H269.05" stroke="#1e1e1e" stroke-width="1.20" stroke-dasharray="2.1,2.0"/><path d="M256.55,287.48H269.05" stroke="#ea4ae8" stroke-width="1.30"/><path d="M256.55,292.28H269.05" stroke="#4a4ae0" stroke-width="1.30"/></g>
<g><path d="M348.23,379.80V277.40M361.26,379.80V277.40M374.29,379.80V277.40M387.32,379.80V277.40M400.35,379.80V277.40M413.38,379.80V277.40M426.41,379.80V277.40M439.44,379.80V277.40M452.47,379.80V277.40M465.50,379.80V277.40M335.20,366.56H465.50M335.20,353.31H465.50M335.20,340.07H465.50M335.20,326.83H465.50M335.20,313.59H465.50M335.20,300.34H465.50M335.20,287.10H465.50" stroke="#e6e6e6" stroke-width="0.50" fill="none"/><path d="M335.20,277.40V379.80H465.50" stroke="#808080" stroke-width="0.60" fill="none"/><path d="M335.95,379.80 L335.95,290.11 L335.97,290.12 L336.02,290.17 L336.10,290.25 L336.22,290.36 L336.38,290.49 L336.57,290.65 L336.79,290.83 L337.04,291.03 L337.33,291.24 L337.66,291.47 L338.01,291.70 L338.40,291.93 L338.82,292.17 L339.27,292.41 L339.76,292.64 L340.28,292.87 L340.82,293.10 L341.40,293.32 L342.01,293.53 L342.65,293.73 L343.32,293.92 L344.02,294.11 L344.75,294.30 L345.50,294.47 L346.29,294.64 L347.10,294.81 L347.93,294.97 L348.80,295.13 L349.69,295.29 L350.60,295.45 L351.54,295.61 L352.50,295.77 L353.48,295.93 L354.48,296.09 L355.51,296.25 L356.56,296.42 L357.62,296.59 L358.71,296.77 L359.82,296.94 L360.94,297.13 L362.08,297.31 L363.23,297.50 L364.40,297.70 L365.59,297.90 L366.79,298.11 L368.00,298.32 L369.22,298.53 L370.46,298.75 L371.70,298.98 L372.96,299.20 L374.22,299.43 L375.49,299.65 L376.77,299.88 L378.05,300.10 L379.34,300.32 L380.63,300.53 L381.93,300.73 L383.23,300.92 L384.53,301.10 L385.82,301.26 L387.12,301.40 L388.42,301.53 L389.72,301.65 L391.01,301.75 L392.30,301.86 L393.58,301.98 L394.86,302.11 L396.13,302.23 L397.39,302.37 L398.65,302.53 L399.89,302.71 L401.13,302.90 L402.35,303.11 L403.56,303.34 L404.76,303.57 L405.95,303.81 L407.12,304.06 L408.27,304.32 L409.41,304.58 L410.53,304.84 L411.64,305.09 L412.73,305.34 L413.79,305.58 L414.84,305.81 L415.87,306.03 L416.87,306.24 L417.85,306.46 L418.81,306.69 L419.75,306.95 L420.66,307.23 L421.55,307.53 L422.42,307.85 L423.25,308.18 L424.06,308.52 L424.85,308.87 L425.60,309.25 L426.33,309.67 L427.03,310.11 L427.70,310.54 L428.34,310.95 L428.95,311.36 L429.53,311.78 L430.07,312.22 L430.59,312.68 L431.08,313.17 L431.53,313.69 L431.95,314.24 L432.34,314.86 L432.69,315.57 L433.02,316.38 L433.31,317.27 L433.56,318.22 L433.78,319.20 L433.97,320.16 L434.13,321.06 L434.25,321.85 L434.33,322.47 L434.38,322.86 L434.40,323.00 L434.40,379.80" stroke="#ea4ae8" stroke-width="1.25" fill="none" stroke-linejoin="round"/><path d="M335.70,379.80 L335.70,286.65 L335.72,286.67 L335.79,286.72 L335.90,286.80 L336.06,286.91 L336.26,287.05 L336.51,287.21 L336.80,287.40 L337.14,287.61 L337.52,287.84 L337.95,288.09 L338.42,288.35 L338.93,288.63 L339.48,288.91 L340.08,289.20 L340.72,289.49 L341.40,289.78 L342.12,290.06 L342.89,290.35 L343.69,290.63 L344.53,290.91 L345.41,291.17 L346.33,291.43 L347.29,291.68 L348.29,291.92 L349.32,292.16 L350.39,292.38 L351.49,292.60 L352.63,292.80 L353.80,293.00 L355.00,293.20 L356.23,293.39 L357.50,293.57 L358.79,293.75 L360.12,293.93 L361.47,294.11 L362.85,294.29 L364.25,294.46 L365.69,294.64 L367.14,294.82 L368.62,295.00 L370.12,295.18 L371.64,295.37 L373.19,295.55 L374.75,295.73 L376.33,295.92 L377.92,296.10 L379.54,296.29 L381.16,296.47 L382.80,296.65 L384.46,296.82 L386.12,296.99 L387.79,297.16 L389.48,297.32 L391.17,297.47 L392.86,297.63 L394.57,297.78 L396.27,297.94 L397.98,298.09 L399.69,298.26 L401.41,298.42 L403.12,298.58 L404.83,298.75 L406.53,298.91 L408.24,299.07 L409.93,299.23 L411.62,299.39 L413.31,299.54 L414.98,299.68 L416.64,299.83 L418.30,299.97 L419.94,300.11 L421.56,300.25 L423.18,300.40 L424.77,300.56 L426.35,300.73 L427.91,300.89 L429.46,301.07 L430.98,301.27 L432.48,301.47 L433.96,301.69 L435.41,301.91 L436.85,302.15 L438.25,302.41 L439.63,302.67 L440.98,302.96 L442.31,303.25 L443.60,303.56 L444.87,303.88 L446.10,304.21 L447.30,304.54 L448.47,304.89 L449.61,305.25 L450.71,305.62 L451.78,306.00 L452.81,306.39 L453.81,306.79 L454.77,307.21 L455.69,307.66 L456.57,308.11 L457.41,308.56 L458.21,309.00 L458.98,309.43 L459.70,309.89 L460.38,310.45 L461.02,311.04 L461.62,311.59 L462.17,312.13 L462.68,312.75 L463.15,313.50 L463.58,314.33 L463.96,315.22 L464.30,316.13 L464.59,317.02 L464.84,317.85 L465.04,318.61 L465.20,319.24 L465.31,319.72 L465.38,320.02 L465.40,320.12 L465.50,379.80" stroke="#4a4ae0" stroke-width="1.25" fill="none" stroke-linejoin="round"/><path d="M335.60,379.80V289.48" stroke="#1e1e1e" stroke-width="1.00" fill="none" stroke-dasharray="2.0,1.8" stroke-opacity="0.95"/><path d="M335.70,289.48 L335.72,289.49 L335.77,289.51 L335.85,289.54 L335.97,289.59 L336.13,289.65 L336.31,289.73 L336.54,289.81 L336.79,289.91 L337.08,290.03 L337.40,290.15 L337.76,290.28 L338.14,290.43 L338.56,290.58 L339.02,290.75 L339.50,290.92 L340.02,291.10 L340.56,291.29 L341.14,291.49 L341.75,291.69 L342.39,291.90 L343.05,292.11 L343.75,292.32 L344.48,292.54 L345.23,292.77 L346.01,292.99 L346.82,293.22 L347.65,293.44 L348.51,293.67 L349.40,293.90 L350.31,294.13 L351.25,294.36 L352.20,294.59 L353.18,294.82 L354.19,295.05 L355.21,295.28 L356.26,295.51 L357.32,295.74 L358.40,295.97 L359.51,296.20 L360.63,296.43 L361.76,296.66 L362.91,296.89 L364.08,297.12 L365.26,297.35 L366.46,297.58 L367.67,297.81 L368.89,298.03 L370.12,298.26 L371.36,298.48 L372.61,298.69 L373.87,298.90 L375.14,299.11 L376.42,299.32 L377.70,299.51 L378.98,299.71 L380.27,299.89 L381.56,300.07 L382.86,300.24 L384.15,300.40 L385.45,300.55 L386.74,300.68 L388.04,300.81 L389.33,300.93 L390.62,301.04 L391.90,301.15 L393.18,301.26 L394.46,301.38 L395.73,301.49 L396.99,301.61 L398.24,301.75 L399.48,301.89 L400.71,302.04 L401.93,302.21 L403.14,302.39 L404.34,302.57 L405.52,302.76 L406.69,302.96 L407.84,303.17 L408.97,303.38 L410.09,303.60 L411.20,303.83 L412.28,304.06 L413.34,304.30 L414.39,304.54 L415.41,304.79 L416.42,305.05 L417.40,305.33 L418.35,305.62 L419.29,305.93 L420.20,306.27 L421.09,306.64 L421.95,307.03 L422.78,307.45 L423.59,307.89 L424.37,308.35 L425.12,308.84 L425.85,309.36 L426.55,309.92 L427.21,310.52 L427.85,311.17 L428.46,311.83 L429.04,312.51 L429.58,313.19 L430.10,313.89 L430.58,314.61 L431.04,315.36 L431.46,316.15 L431.84,316.99 L432.20,317.88 L432.52,318.81 L432.81,319.74 L433.06,320.66 L433.29,321.54 L433.47,322.35 L433.63,323.05 L433.75,323.64 L433.83,324.07 L433.88,324.34 L433.90,324.43" stroke="#1e1e1e" stroke-width="1.30" fill="none" stroke-linejoin="round" stroke-dasharray="2.0,1.8"/><rect x="411.83" y="280.52" width="50.74" height="15.93" fill="#fff" stroke="#bdbdbd" stroke-width="0.45"/><path d="M412.56,283.66H424.83" stroke="#1e1e1e" stroke-width="1.20" stroke-dasharray="2.1,2.0"/><path d="M412.56,288.38H424.83" stroke="#ea4ae8" stroke-width="1.30"/><path d="M412.56,293.10H424.83" stroke="#4a4ae0" stroke-width="1.30"/></g>
<g><path d="M35.14,512.30V412.10M47.78,512.30V412.10M60.42,512.30V412.10M73.06,512.30V412.10M85.70,512.30V412.10M98.34,512.30V412.10M110.98,512.30V412.10M123.62,512.30V412.10M136.26,512.30V412.10M148.90,512.30V412.10M22.50,499.37H148.90M22.50,486.44H148.90M22.50,473.51H148.90M22.50,460.59H148.90M22.50,447.66H148.90M22.50,434.73H148.90M22.50,421.80H148.90" stroke="#e6e6e6" stroke-width="0.50" fill="none"/><path d="M22.50,412.10V512.30H148.90" stroke="#808080" stroke-width="0.60" fill="none"/><path d="M23.25,512.30 L23.25,422.93 L23.27,422.95 L23.33,423.01 L23.42,423.10 L23.56,423.23 L23.73,423.39 L23.94,423.58 L24.19,423.79 L24.47,424.02 L24.80,424.27 L25.16,424.54 L25.55,424.80 L25.99,425.08 L26.46,425.35 L26.97,425.62 L27.51,425.89 L28.09,426.15 L28.70,426.40 L29.35,426.64 L30.03,426.87 L30.74,427.09 L31.49,427.30 L32.27,427.50 L33.09,427.69 L33.93,427.87 L34.81,428.05 L35.71,428.22 L36.65,428.39 L37.61,428.55 L38.60,428.71 L39.62,428.88 L40.67,429.04 L41.74,429.20 L42.84,429.36 L43.97,429.53 L45.12,429.70 L46.29,429.87 L47.48,430.05 L48.69,430.24 L49.93,430.42 L51.18,430.61 L52.46,430.81 L53.75,431.01 L55.06,431.21 L56.38,431.42 L57.72,431.63 L59.08,431.84 L60.44,432.05 L61.82,432.27 L63.22,432.48 L64.62,432.69 L66.03,432.90 L67.45,433.10 L68.88,433.29 L70.31,433.48 L71.75,433.65 L73.20,433.81 L74.65,433.95 L76.10,434.08 L77.55,434.20 L79.00,434.31 L80.45,434.43 L81.90,434.56 L83.35,434.71 L84.80,434.87 L86.24,435.04 L87.67,435.23 L89.10,435.43 L90.52,435.63 L91.93,435.84 L93.33,436.05 L94.73,436.26 L96.11,436.47 L97.47,436.68 L98.83,436.90 L100.17,437.11 L101.49,437.33 L102.80,437.54 L104.09,437.74 L105.37,437.94 L106.62,438.13 L107.86,438.33 L109.07,438.52 L110.26,438.71 L111.43,438.91 L112.58,439.12 L113.71,439.34 L114.81,439.56 L115.88,439.79 L116.93,440.02 L117.95,440.27 L118.94,440.52 L119.90,440.78 L120.84,441.05 L121.74,441.33 L122.62,441.63 L123.46,441.94 L124.28,442.28 L125.06,442.64 L125.81,442.99 L126.52,443.35 L127.20,443.72 L127.85,444.13 L128.46,444.57 L129.04,445.03 L129.58,445.50 L130.09,446.00 L130.56,446.53 L131.00,447.14 L131.39,447.85 L131.75,448.65 L132.08,449.55 L132.36,450.51 L132.61,451.51 L132.82,452.52 L132.99,453.49 L133.13,454.35 L133.22,455.03 L133.28,455.48 L133.30,455.63 L133.30,512.30" stroke="#ea4ae8" stroke-width="1.25" fill="none" stroke-linejoin="round"/><path d="M23.00,512.30 L23.00,420.99 L23.02,421.01 L23.09,421.07 L23.20,421.17 L23.35,421.30 L23.55,421.47 L23.79,421.67 L24.07,421.90 L24.40,422.16 L24.77,422.43 L25.18,422.72 L25.63,423.02 L26.13,423.33 L26.67,423.64 L27.25,423.96 L27.87,424.27 L28.53,424.58 L29.23,424.88 L29.97,425.17 L30.75,425.45 L31.57,425.72 L32.42,425.97 L33.31,426.22 L34.24,426.45 L35.21,426.67 L36.21,426.88 L37.24,427.08 L38.31,427.27 L39.42,427.46 L40.55,427.64 L41.72,427.81 L42.91,427.99 L44.14,428.16 L45.40,428.33 L46.68,428.50 L47.99,428.68 L49.33,428.86 L50.70,429.04 L52.08,429.22 L53.50,429.41 L54.93,429.60 L56.39,429.80 L57.86,430.00 L59.36,430.19 L60.87,430.39 L62.41,430.59 L63.95,430.78 L65.52,430.97 L67.10,431.16 L68.69,431.34 L70.29,431.52 L71.90,431.68 L73.53,431.83 L75.16,431.97 L76.80,432.10 L78.45,432.22 L80.10,432.35 L81.75,432.49 L83.41,432.64 L85.07,432.81 L86.73,432.98 L88.39,433.17 L90.05,433.37 L91.70,433.57 L93.35,433.78 L95.00,433.98 L96.64,434.19 L98.27,434.39 L99.90,434.58 L101.51,434.77 L103.11,434.96 L104.70,435.14 L106.28,435.32 L107.85,435.49 L109.39,435.66 L110.93,435.84 L112.44,436.00 L113.94,436.17 L115.41,436.34 L116.87,436.52 L118.30,436.70 L119.72,436.89 L121.10,437.09 L122.47,437.30 L123.81,437.52 L125.12,437.75 L126.40,438.00 L127.66,438.26 L128.89,438.52 L130.08,438.79 L131.25,439.07 L132.38,439.34 L133.49,439.63 L134.56,439.94 L135.59,440.25 L136.59,440.57 L137.56,440.92 L138.49,441.29 L139.38,441.69 L140.23,442.10 L141.05,442.51 L141.83,442.93 L142.57,443.37 L143.27,443.84 L143.93,444.36 L144.55,444.89 L145.13,445.44 L145.67,446.00 L146.17,446.63 L146.62,447.33 L147.03,448.10 L147.40,448.92 L147.73,449.76 L148.01,450.60 L148.25,451.40 L148.45,452.13 L148.60,452.75 L148.71,453.22 L148.78,453.53 L148.80,453.63 L148.80,512.30" stroke="#4a4ae0" stroke-width="1.25" fill="none" stroke-linejoin="round"/><path d="M22.90,512.30V423.61" stroke="#1e1e1e" stroke-width="1.00" fill="none" stroke-dasharray="2.0,1.8" stroke-opacity="0.30"/><path d="M23.00,423.61 L23.02,423.62 L23.06,423.64 L23.14,423.68 L23.25,423.73 L23.40,423.79 L23.57,423.87 L23.78,423.96 L24.02,424.06 L24.28,424.18 L24.58,424.31 L24.91,424.45 L25.27,424.60 L25.67,424.77 L26.09,424.94 L26.54,425.12 L27.02,425.31 L27.53,425.51 L28.06,425.72 L28.63,425.93 L29.22,426.16 L29.85,426.38 L30.49,426.61 L31.17,426.85 L31.87,427.09 L32.60,427.33 L33.35,427.58 L34.13,427.83 L34.93,428.08 L35.75,428.33 L36.60,428.58 L37.47,428.84 L38.36,429.09 L39.27,429.35 L40.21,429.61 L41.16,429.86 L42.13,430.12 L43.12,430.37 L44.13,430.63 L45.16,430.88 L46.20,431.14 L47.26,431.39 L48.33,431.64 L49.42,431.88 L50.52,432.13 L51.63,432.37 L52.76,432.60 L53.89,432.84 L55.04,433.07 L56.19,433.29 L57.36,433.51 L58.53,433.73 L59.71,433.94 L60.90,434.15 L62.09,434.35 L63.28,434.55 L64.48,434.75 L65.69,434.94 L66.89,435.12 L68.10,435.30 L69.30,435.48 L70.51,435.65 L71.71,435.82 L72.92,435.99 L74.12,436.15 L75.31,436.31 L76.50,436.47 L77.69,436.63 L78.87,436.78 L80.04,436.94 L81.21,437.10 L82.36,437.26 L83.51,437.42 L84.64,437.59 L85.77,437.76 L86.88,437.94 L87.98,438.12 L89.07,438.30 L90.14,438.49 L91.20,438.69 L92.24,438.90 L93.27,439.11 L94.28,439.34 L95.27,439.58 L96.24,439.83 L97.19,440.09 L98.13,440.35 L99.04,440.62 L99.93,440.89 L100.80,441.17 L101.65,441.46 L102.47,441.77 L103.27,442.10 L104.05,442.45 L104.80,442.82 L105.53,443.21 L106.23,443.63 L106.91,444.05 L107.55,444.47 L108.18,444.90 L108.77,445.35 L109.34,445.83 L109.87,446.33 L110.38,446.86 L110.86,447.40 L111.31,447.98 L111.73,448.59 L112.13,449.23 L112.49,449.90 L112.82,450.58 L113.12,451.27 L113.38,451.95 L113.62,452.61 L113.83,453.23 L114.00,453.80 L114.15,454.29 L114.26,454.69 L114.34,454.99 L114.38,455.17 L114.40,455.24" stroke="#1e1e1e" stroke-width="1.30" fill="none" stroke-linejoin="round" stroke-dasharray="2.0,1.8"/><rect x="96.83" y="415.94" width="49.22" height="15.46" fill="#fff" stroke="#bdbdbd" stroke-width="0.45"/><path d="M97.55,418.99H109.44" stroke="#1e1e1e" stroke-width="1.20" stroke-dasharray="2.1,2.0"/><path d="M97.55,423.57H109.44" stroke="#ea4ae8" stroke-width="1.30"/><path d="M97.55,428.14H109.44" stroke="#4a4ae0" stroke-width="1.30"/></g>
<g><path d="M189.76,513.70V410.40M202.92,513.70V410.40M216.08,513.70V410.40M229.24,513.70V410.40M242.40,513.70V410.40M255.56,513.70V410.40M268.72,513.70V410.40M281.88,513.70V410.40M295.04,513.70V410.40M308.20,513.70V410.40M176.60,500.36H308.20M176.60,487.01H308.20M176.60,473.67H308.20M176.60,460.33H308.20M176.60,446.99H308.20M176.60,433.64H308.20M176.60,420.30H308.20" stroke="#e6e6e6" stroke-width="0.50" fill="none"/><path d="M176.60,410.40V513.70H308.20" stroke="#808080" stroke-width="0.60" fill="none"/><path d="M177.35,513.70 L177.35,423.09 L177.37,423.11 L177.42,423.17 L177.50,423.27 L177.62,423.40 L177.77,423.57 L177.96,423.76 L178.18,423.98 L178.43,424.21 L178.72,424.46 L179.04,424.72 L179.39,424.99 L179.77,425.25 L180.19,425.52 L180.64,425.77 L181.12,426.02 L181.63,426.27 L182.17,426.50 L182.74,426.72 L183.35,426.93 L183.98,427.13 L184.64,427.32 L185.33,427.50 L186.05,427.68 L186.80,427.85 L187.57,428.01 L188.37,428.17 L189.20,428.33 L190.05,428.48 L190.93,428.64 L191.83,428.79 L192.76,428.95 L193.71,429.11 L194.68,429.27 L195.68,429.43 L196.69,429.60 L197.73,429.77 L198.78,429.94 L199.86,430.12 L200.95,430.30 L202.06,430.49 L203.19,430.68 L204.33,430.87 L205.49,431.07 L206.66,431.27 L207.84,431.48 L209.04,431.69 L210.25,431.90 L211.47,432.12 L212.70,432.34 L213.94,432.55 L215.19,432.77 L216.45,432.99 L217.71,433.21 L218.98,433.42 L220.26,433.63 L221.53,433.84 L222.81,434.03 L224.10,434.22 L225.38,434.39 L226.67,434.55 L227.95,434.70 L229.24,434.84 L230.52,434.96 L231.79,435.09 L233.07,435.22 L234.34,435.35 L235.60,435.49 L236.86,435.64 L238.11,435.80 L239.35,435.97 L240.58,436.17 L241.80,436.38 L243.01,436.61 L244.21,436.86 L245.39,437.11 L246.56,437.38 L247.72,437.65 L248.86,437.93 L249.99,438.22 L251.10,438.51 L252.19,438.80 L253.27,439.07 L254.32,439.34 L255.36,439.59 L256.37,439.82 L257.37,440.05 L258.34,440.29 L259.29,440.54 L260.22,440.81 L261.12,441.11 L262.00,441.43 L262.85,441.76 L263.68,442.11 L264.48,442.46 L265.25,442.82 L266.00,443.21 L266.72,443.63 L267.41,444.06 L268.07,444.49 L268.70,444.92 L269.31,445.37 L269.88,445.84 L270.42,446.33 L270.93,446.86 L271.41,447.41 L271.86,447.99 L272.28,448.62 L272.66,449.33 L273.01,450.13 L273.33,451.01 L273.62,451.95 L273.87,452.93 L274.09,453.91 L274.28,454.86 L274.43,455.74 L274.55,456.50 L274.63,457.08 L274.68,457.45 L274.70,457.58 L274.70,513.70" stroke="#ea4ae8" stroke-width="1.25" fill="none" stroke-linejoin="round"/><path d="M177.10,513.70 L177.10,419.03 L177.12,419.05 L177.19,419.11 L177.31,419.21 L177.46,419.35 L177.67,419.52 L177.92,419.73 L178.22,419.96 L178.56,420.22 L178.94,420.50 L179.37,420.80 L179.84,421.11 L180.36,421.44 L180.92,421.76 L181.52,422.09 L182.17,422.42 L182.86,422.75 L183.59,423.07 L184.36,423.38 L185.17,423.68 L186.02,423.97 L186.91,424.25 L187.84,424.51 L188.81,424.77 L189.81,425.01 L190.86,425.23 L191.93,425.45 L193.05,425.66 L194.19,425.85 L195.38,426.04 L196.59,426.23 L197.84,426.41 L199.12,426.59 L200.42,426.78 L201.76,426.96 L203.13,427.14 L204.52,427.33 L205.94,427.53 L207.39,427.73 L208.86,427.93 L210.35,428.14 L211.87,428.35 L213.40,428.56 L214.96,428.77 L216.54,428.98 L218.13,429.19 L219.75,429.40 L221.38,429.60 L223.02,429.80 L224.68,430.00 L226.34,430.18 L228.02,430.36 L229.72,430.53 L231.42,430.69 L233.12,430.84 L234.84,431.00 L236.56,431.15 L238.28,431.31 L240.01,431.48 L241.74,431.65 L243.46,431.82 L245.19,431.99 L246.92,432.17 L248.64,432.34 L250.36,432.52 L252.08,432.69 L253.78,432.85 L255.48,433.01 L257.18,433.17 L258.86,433.32 L260.52,433.47 L262.18,433.62 L263.82,433.77 L265.45,433.93 L267.07,434.10 L268.66,434.27 L270.24,434.44 L271.80,434.63 L273.33,434.82 L274.85,435.01 L276.34,435.21 L277.81,435.42 L279.26,435.63 L280.68,435.85 L282.07,436.08 L283.44,436.32 L284.78,436.57 L286.08,436.82 L287.36,437.09 L288.61,437.36 L289.82,437.64 L291.01,437.93 L292.15,438.24 L293.27,438.56 L294.34,438.88 L295.39,439.22 L296.39,439.57 L297.36,439.94 L298.29,440.33 L299.18,440.72 L300.03,441.11 L300.84,441.52 L301.61,441.96 L302.34,442.43 L303.03,442.94 L303.68,443.45 L304.28,443.92 L304.84,444.45 L305.36,445.09 L305.83,445.82 L306.26,446.62 L306.64,447.47 L306.98,448.36 L307.28,449.26 L307.53,450.12 L307.74,450.92 L307.89,451.60 L308.01,452.13 L308.08,452.47 L308.10,452.58 L308.10,513.70" stroke="#4a4ae0" stroke-width="1.25" fill="none" stroke-linejoin="round"/><path d="M177.00,513.70V422.05" stroke="#1e1e1e" stroke-width="1.00" fill="none" stroke-dasharray="2.0,1.8" stroke-opacity="0.30"/><path d="M177.10,422.05 L177.12,422.05 L177.17,422.08 L177.25,422.11 L177.37,422.16 L177.51,422.23 L177.70,422.30 L177.91,422.39 L178.16,422.50 L178.44,422.61 L178.75,422.74 L179.09,422.88 L179.47,423.03 L179.88,423.19 L180.31,423.36 L180.78,423.54 L181.28,423.73 L181.81,423.93 L182.37,424.13 L182.96,424.34 L183.58,424.56 L184.23,424.78 L184.91,425.01 L185.61,425.23 L186.34,425.47 L187.10,425.70 L187.88,425.94 L188.69,426.18 L189.52,426.42 L190.38,426.67 L191.26,426.91 L192.17,427.16 L193.10,427.41 L194.05,427.65 L195.02,427.90 L196.01,428.16 L197.03,428.41 L198.06,428.67 L199.11,428.92 L200.18,429.18 L201.26,429.44 L202.37,429.71 L203.48,429.97 L204.62,430.23 L205.76,430.50 L206.92,430.76 L208.09,431.03 L209.28,431.29 L210.47,431.55 L211.67,431.80 L212.89,432.06 L214.11,432.30 L215.34,432.55 L216.57,432.79 L217.81,433.02 L219.06,433.24 L220.31,433.46 L221.56,433.66 L222.82,433.86 L224.07,434.04 L225.33,434.21 L226.58,434.37 L227.84,434.51 L229.09,434.64 L230.34,434.76 L231.59,434.87 L232.83,434.98 L234.06,435.09 L235.29,435.19 L236.51,435.30 L237.73,435.42 L238.93,435.56 L240.12,435.73 L241.31,435.91 L242.48,436.10 L243.64,436.31 L244.78,436.53 L245.92,436.76 L247.03,437.00 L248.14,437.25 L249.22,437.51 L250.29,437.78 L251.34,438.05 L252.37,438.32 L253.39,438.58 L254.38,438.83 L255.35,439.08 L256.30,439.33 L257.23,439.57 L258.14,439.83 L259.02,440.12 L259.88,440.43 L260.71,440.78 L261.52,441.16 L262.30,441.57 L263.06,441.97 L263.79,442.39 L264.49,442.82 L265.17,443.27 L265.82,443.75 L266.44,444.25 L267.03,444.80 L267.59,445.39 L268.12,446.04 L268.62,446.70 L269.09,447.36 L269.52,448.00 L269.93,448.61 L270.31,449.23 L270.65,449.87 L270.96,450.53 L271.24,451.20 L271.49,451.85 L271.70,452.47 L271.89,453.04 L272.03,453.54 L272.15,453.94 L272.23,454.24 L272.28,454.43 L272.30,454.49" stroke="#1e1e1e" stroke-width="1.30" fill="none" stroke-linejoin="round" stroke-dasharray="2.0,1.8"/><rect x="253.99" y="414.14" width="51.24" height="16.09" fill="#fff" stroke="#bdbdbd" stroke-width="0.45"/><path d="M254.73,417.32H267.12" stroke="#1e1e1e" stroke-width="1.20" stroke-dasharray="2.1,2.0"/><path d="M254.73,422.08H267.12" stroke="#ea4ae8" stroke-width="1.30"/><path d="M254.73,426.85H267.12" stroke="#4a4ae0" stroke-width="1.30"/></g>
<g><path d="M347.19,512.90V412.00M360.08,512.90V412.00M372.97,512.90V412.00M385.86,512.90V412.00M398.75,512.90V412.00M411.64,512.90V412.00M424.53,512.90V412.00M437.42,512.90V412.00M450.31,512.90V412.00M463.20,512.90V412.00M334.30,499.79H463.20M334.30,486.67H463.20M334.30,473.56H463.20M334.30,460.44H463.20M334.30,447.33H463.20M334.30,434.21H463.20M334.30,421.10H463.20" stroke="#e6e6e6" stroke-width="0.50" fill="none"/><path d="M334.30,412.00V512.90H463.20" stroke="#808080" stroke-width="0.60" fill="none"/><path d="M335.05,512.90 L335.05,424.11 L335.07,424.13 L335.11,424.19 L335.19,424.29 L335.30,424.43 L335.45,424.60 L335.62,424.79 L335.83,425.02 L336.06,425.26 L336.33,425.51 L336.63,425.78 L336.96,426.04 L337.32,426.32 L337.71,426.58 L338.13,426.84 L338.58,427.10 L339.06,427.34 L339.57,427.58 L340.11,427.80 L340.67,428.01 L341.26,428.21 L341.88,428.40 L342.53,428.58 L343.21,428.76 L343.91,428.92 L344.63,429.08 L345.38,429.24 L346.16,429.39 L346.96,429.54 L347.78,429.69 L348.63,429.84 L349.50,429.99 L350.39,430.13 L351.30,430.28 L352.23,430.43 L353.18,430.58 L354.15,430.73 L355.14,430.89 L356.15,431.04 L357.17,431.20 L358.21,431.36 L359.27,431.53 L360.34,431.70 L361.42,431.87 L362.52,432.04 L363.63,432.22 L364.76,432.40 L365.89,432.59 L367.04,432.78 L368.19,432.97 L369.35,433.16 L370.52,433.36 L371.70,433.56 L372.88,433.76 L374.07,433.97 L375.27,434.17 L376.47,434.37 L377.67,434.57 L378.87,434.77 L380.07,434.96 L381.28,435.15 L382.48,435.33 L383.68,435.50 L384.88,435.67 L386.08,435.83 L387.28,435.99 L388.47,436.15 L389.65,436.29 L390.83,436.44 L392.00,436.59 L393.16,436.74 L394.31,436.91 L395.46,437.10 L396.59,437.30 L397.72,437.51 L398.83,437.74 L399.93,437.97 L401.01,438.21 L402.08,438.46 L403.14,438.73 L404.18,439.00 L405.20,439.28 L406.21,439.58 L407.20,439.88 L408.17,440.20 L409.12,440.52 L410.05,440.83 L410.96,441.13 L411.85,441.41 L412.72,441.67 L413.57,441.94 L414.39,442.20 L415.19,442.48 L415.97,442.77 L416.72,443.07 L417.44,443.38 L418.14,443.71 L418.82,444.05 L419.47,444.41 L420.09,444.78 L420.68,445.17 L421.24,445.56 L421.78,445.96 L422.29,446.39 L422.77,446.85 L423.22,447.35 L423.64,447.88 L424.03,448.47 L424.39,449.12 L424.72,449.84 L425.02,450.59 L425.29,451.38 L425.52,452.17 L425.73,452.95 L425.90,453.69 L426.05,454.35 L426.16,454.91 L426.24,455.34 L426.28,455.61 L426.30,455.71 L426.30,512.90" stroke="#ea4ae8" stroke-width="1.25" fill="none" stroke-linejoin="round"/><path d="M334.80,512.90 L334.80,420.04 L334.82,420.06 L334.89,420.11 L335.00,420.20 L335.16,420.33 L335.36,420.48 L335.60,420.67 L335.89,420.89 L336.22,421.13 L336.60,421.39 L337.01,421.67 L337.48,421.96 L337.98,422.27 L338.53,422.58 L339.12,422.90 L339.75,423.22 L340.42,423.54 L341.13,423.85 L341.88,424.16 L342.67,424.46 L343.50,424.76 L344.37,425.04 L345.28,425.31 L346.22,425.58 L347.20,425.83 L348.22,426.06 L349.27,426.29 L350.36,426.51 L351.48,426.72 L352.63,426.91 L353.82,427.11 L355.03,427.29 L356.28,427.48 L357.55,427.66 L358.86,427.84 L360.19,428.02 L361.55,428.20 L362.94,428.39 L364.35,428.58 L365.78,428.77 L367.24,428.96 L368.72,429.16 L370.22,429.35 L371.74,429.55 L373.28,429.75 L374.83,429.95 L376.41,430.14 L377.99,430.33 L379.60,430.52 L381.21,430.71 L382.84,430.89 L384.48,431.06 L386.13,431.23 L387.79,431.40 L389.45,431.56 L391.13,431.71 L392.80,431.87 L394.49,432.04 L396.17,432.20 L397.86,432.37 L399.54,432.54 L401.23,432.71 L402.91,432.87 L404.60,433.04 L406.27,433.21 L407.95,433.36 L409.61,433.52 L411.27,433.66 L412.92,433.79 L414.56,433.92 L416.19,434.04 L417.80,434.16 L419.41,434.29 L420.99,434.42 L422.57,434.57 L424.12,434.72 L425.66,434.88 L427.18,435.06 L428.68,435.24 L430.16,435.43 L431.62,435.63 L433.05,435.84 L434.46,436.05 L435.85,436.27 L437.21,436.51 L438.54,436.75 L439.85,437.01 L441.12,437.27 L442.37,437.55 L443.58,437.83 L444.77,438.12 L445.92,438.42 L447.04,438.73 L448.13,439.05 L449.18,439.39 L450.20,439.72 L451.18,440.07 L452.12,440.43 L453.03,440.82 L453.90,441.22 L454.73,441.63 L455.52,442.05 L456.27,442.48 L456.98,442.92 L457.65,443.40 L458.28,443.94 L458.87,444.47 L459.42,445.01 L459.92,445.59 L460.39,446.26 L460.80,447.02 L461.18,447.83 L461.51,448.67 L461.80,449.49 L462.04,450.28 L462.24,451.00 L462.40,451.61 L462.51,452.07 L462.58,452.36 L462.60,452.46 L462.60,512.90" stroke="#4a4ae0" stroke-width="1.25" fill="none" stroke-linejoin="round"/><path d="M334.70,512.90V423.06" stroke="#1e1e1e" stroke-width="1.00" fill="none" stroke-dasharray="2.0,1.8" stroke-opacity="0.30"/><path d="M334.80,423.06 L334.82,423.06 L334.86,423.09 L334.95,423.12 L335.06,423.17 L335.20,423.23 L335.38,423.31 L335.59,423.39 L335.83,423.50 L336.11,423.61 L336.41,423.73 L336.75,423.87 L337.12,424.02 L337.51,424.17 L337.94,424.34 L338.40,424.51 L338.89,424.70 L339.41,424.89 L339.96,425.09 L340.53,425.29 L341.14,425.50 L341.77,425.72 L342.43,425.94 L343.12,426.16 L343.84,426.39 L344.58,426.62 L345.34,426.85 L346.13,427.09 L346.95,427.32 L347.79,427.56 L348.65,427.80 L349.54,428.04 L350.45,428.28 L351.38,428.51 L352.33,428.75 L353.30,428.99 L354.29,429.23 L355.30,429.48 L356.32,429.72 L357.37,429.96 L358.43,430.20 L359.51,430.45 L360.60,430.69 L361.71,430.94 L362.83,431.18 L363.96,431.43 L365.11,431.67 L366.27,431.91 L367.43,432.16 L368.61,432.40 L369.80,432.63 L370.99,432.87 L372.19,433.10 L373.40,433.32 L374.61,433.55 L375.83,433.76 L377.05,433.97 L378.28,434.17 L379.51,434.36 L380.74,434.54 L381.96,434.70 L383.19,434.86 L384.42,435.00 L385.65,435.13 L386.87,435.26 L388.09,435.38 L389.30,435.50 L390.51,435.62 L391.71,435.74 L392.90,435.86 L394.09,436.00 L395.27,436.15 L396.43,436.32 L397.59,436.50 L398.74,436.70 L399.87,436.91 L400.99,437.13 L402.10,437.36 L403.19,437.61 L404.27,437.86 L405.33,438.12 L406.38,438.39 L407.40,438.67 L408.41,438.95 L409.40,439.24 L410.37,439.52 L411.32,439.81 L412.25,440.09 L413.16,440.38 L414.05,440.67 L414.91,440.98 L415.75,441.30 L416.57,441.65 L417.36,442.01 L418.12,442.40 L418.86,442.82 L419.58,443.26 L420.27,443.73 L420.93,444.21 L421.56,444.70 L422.17,445.23 L422.74,445.79 L423.29,446.39 L423.81,447.02 L424.30,447.65 L424.76,448.26 L425.19,448.85 L425.58,449.43 L425.95,450.02 L426.29,450.63 L426.59,451.25 L426.87,451.86 L427.11,452.46 L427.32,453.02 L427.50,453.52 L427.64,453.95 L427.75,454.30 L427.84,454.56 L427.88,454.72 L427.90,454.77" stroke="#1e1e1e" stroke-width="1.30" fill="none" stroke-linejoin="round" stroke-dasharray="2.0,1.8"/><rect x="410.11" y="415.09" width="50.19" height="15.76" fill="#fff" stroke="#bdbdbd" stroke-width="0.45"/><path d="M410.83,418.20H422.96" stroke="#1e1e1e" stroke-width="1.20" stroke-dasharray="2.1,2.0"/><path d="M410.83,422.87H422.96" stroke="#ea4ae8" stroke-width="1.30"/><path d="M410.83,427.53H422.96" stroke="#4a4ae0" stroke-width="1.30"/></g>
</g>
<g>
<g font-size="4.10" fill="#4a4a4a" stroke="#4a4a4a" stroke-width="0.08"><text x="22.20" y="119.16" text-anchor="middle">1</text><text x="34.63" y="119.16" text-anchor="middle">0.9</text><text x="47.06" y="119.16" text-anchor="middle">0.8</text><text x="59.49" y="119.16" text-anchor="middle">0.7</text><text x="71.92" y="119.16" text-anchor="middle">0.6</text><text x="84.35" y="119.16" text-anchor="middle">0.5</text><text x="96.78" y="119.16" text-anchor="middle">0.4</text><text x="109.21" y="119.16" text-anchor="middle">0.3</text><text x="121.64" y="119.16" text-anchor="middle">0.2</text><text x="134.07" y="119.16" text-anchor="middle">0.1</text><text x="146.50" y="119.16" text-anchor="middle">0</text><text x="20.70" y="115.06" text-anchor="end">0.5</text><text x="20.70" y="102.48" text-anchor="end">1</text><text x="20.70" y="89.91" text-anchor="end">1.5</text><text x="20.70" y="77.34" text-anchor="end">2</text><text x="20.70" y="64.77" text-anchor="end">2.5</text><text x="20.70" y="52.20" text-anchor="end">3</text><text x="20.70" y="39.63" text-anchor="end">3.5</text><text x="20.70" y="27.06" text-anchor="end">4</text></g><text x="84.35" y="124.78" text-anchor="middle" font-size="4.16" font-weight="bold" fill="#1a1a1a" stroke="#1a1a1a" stroke-width="0.12">SOC [p.u.]</text><text transform="translate(11.30,64.85) rotate(-90)" x="0" y="1.50" text-anchor="middle" font-size="4.16" font-weight="bold" fill="#1a1a1a" stroke="#1a1a1a" stroke-width="0.12">Voltage [V]</text><text x="84.35" y="13.98" text-anchor="middle" font-size="4.16" font-weight="bold" fill="#111" stroke="#111" stroke-width="0.14">B0005 - cycle 160 prediction at cycle 42</text><text x="109.00" y="23.04" font-size="3.45" fill="#2a2a2a" stroke="#2a2a2a" stroke-width="0.14">Cycle 160 - Measured</text><text x="109.00" y="27.54" font-size="3.45" fill="#2a2a2a" stroke="#2a2a2a" stroke-width="0.14">Cycle 160 - Prediction</text><text x="109.00" y="32.04" font-size="3.45" fill="#2a2a2a" stroke="#2a2a2a" stroke-width="0.14">Cycle 1 - Model</text>
<g font-size="4.23" fill="#4a4a4a" stroke="#4a4a4a" stroke-width="0.08"><text x="176.20" y="121.04" text-anchor="middle">1</text><text x="189.02" y="121.04" text-anchor="middle">0.9</text><text x="201.84" y="121.04" text-anchor="middle">0.8</text><text x="214.66" y="121.04" text-anchor="middle">0.7</text><text x="227.48" y="121.04" text-anchor="middle">0.6</text><text x="240.30" y="121.04" text-anchor="middle">0.5</text><text x="253.12" y="121.04" text-anchor="middle">0.4</text><text x="265.94" y="121.04" text-anchor="middle">0.3</text><text x="278.76" y="121.04" text-anchor="middle">0.2</text><text x="291.58" y="121.04" text-anchor="middle">0.1</text><text x="304.40" y="121.04" text-anchor="middle">0</text><text x="174.65" y="116.80" text-anchor="end">0.5</text><text x="174.65" y="103.76" text-anchor="end">1</text><text x="174.65" y="90.72" text-anchor="end">1.5</text><text x="174.65" y="77.67" text-anchor="end">2</text><text x="174.65" y="64.63" text-anchor="end">2.5</text><text x="174.65" y="51.59" text-anchor="end">3</text><text x="174.65" y="38.54" text-anchor="end">3.5</text><text x="174.65" y="25.50" text-anchor="end">4</text></g><text x="240.30" y="126.84" text-anchor="middle" font-size="4.29" font-weight="bold" fill="#1a1a1a" stroke="#1a1a1a" stroke-width="0.12">SOC [p.u.]</text><text transform="translate(164.96,64.70) rotate(-90)" x="0" y="1.54" text-anchor="middle" font-size="4.29" font-weight="bold" fill="#1a1a1a" stroke="#1a1a1a" stroke-width="0.12">Voltage [V]</text><text x="240.30" y="11.90" text-anchor="middle" font-size="4.29" font-weight="bold" fill="#111" stroke="#111" stroke-width="0.14">B0005 - cycle 160 prediction at cycle 84</text><text x="265.72" y="21.25" font-size="3.56" fill="#2a2a2a" stroke="#2a2a2a" stroke-width="0.14">Cycle 160 - Measured</text><text x="265.72" y="25.89" font-size="3.56" fill="#2a2a2a" stroke="#2a2a2a" stroke-width="0.14">Cycle 160 - Prediction</text><text x="265.72" y="30.53" font-size="3.56" fill="#2a2a2a" stroke="#2a2a2a" stroke-width="0.14">Cycle 1 - Model</text>
<g font-size="4.16" fill="#4a4a4a" stroke="#4a4a4a" stroke-width="0.08"><text x="334.60" y="120.44" text-anchor="middle">1</text><text x="347.21" y="120.44" text-anchor="middle">0.9</text><text x="359.82" y="120.44" text-anchor="middle">0.8</text><text x="372.43" y="120.44" text-anchor="middle">0.7</text><text x="385.04" y="120.44" text-anchor="middle">0.6</text><text x="397.65" y="120.44" text-anchor="middle">0.5</text><text x="410.26" y="120.44" text-anchor="middle">0.4</text><text x="422.87" y="120.44" text-anchor="middle">0.3</text><text x="435.48" y="120.44" text-anchor="middle">0.2</text><text x="448.09" y="120.44" text-anchor="middle">0.1</text><text x="460.70" y="120.44" text-anchor="middle">0</text><text x="333.08" y="116.28" text-anchor="end">0.5</text><text x="333.08" y="103.35" text-anchor="end">1</text><text x="333.08" y="90.42" text-anchor="end">1.5</text><text x="333.08" y="77.49" text-anchor="end">2</text><text x="333.08" y="64.56" text-anchor="end">2.5</text><text x="333.08" y="51.63" text-anchor="end">3</text><text x="333.08" y="38.71" text-anchor="end">3.5</text><text x="333.08" y="25.78" text-anchor="end">4</text></g><text x="397.65" y="126.14" text-anchor="middle" font-size="4.22" font-weight="bold" fill="#1a1a1a" stroke="#1a1a1a" stroke-width="0.12">SOC [p.u.]</text><text transform="translate(323.54,64.60) rotate(-90)" x="0" y="1.52" text-anchor="middle" font-size="4.22" font-weight="bold" fill="#1a1a1a" stroke="#1a1a1a" stroke-width="0.12">Voltage [V]</text><text x="397.65" y="13.24" text-anchor="middle" font-size="4.22" font-weight="bold" fill="#111" stroke="#111" stroke-width="0.14">B0005 - cycle 160 prediction at cycle 134</text><text x="422.66" y="22.54" font-size="3.50" fill="#2a2a2a" stroke="#2a2a2a" stroke-width="0.14">Cycle 160 - Measured</text><text x="422.66" y="27.10" font-size="3.50" fill="#2a2a2a" stroke="#2a2a2a" stroke-width="0.14">Cycle 160 - Prediction</text><text x="422.66" y="31.67" font-size="3.50" fill="#2a2a2a" stroke="#2a2a2a" stroke-width="0.14">Cycle 1 - Model</text>
<g font-size="4.26" fill="#4a4a4a" stroke="#4a4a4a" stroke-width="0.08"><text x="21.50" y="252.19" text-anchor="middle">1</text><text x="34.42" y="252.19" text-anchor="middle">0.9</text><text x="47.34" y="252.19" text-anchor="middle">0.8</text><text x="60.26" y="252.19" text-anchor="middle">0.7</text><text x="73.18" y="252.19" text-anchor="middle">0.6</text><text x="86.10" y="252.19" text-anchor="middle">0.5</text><text x="99.02" y="252.19" text-anchor="middle">0.4</text><text x="111.94" y="252.19" text-anchor="middle">0.3</text><text x="124.86" y="252.19" text-anchor="middle">0.2</text><text x="137.78" y="252.19" text-anchor="middle">0.1</text><text x="150.70" y="252.19" text-anchor="middle">0</text><text x="19.94" y="247.91" text-anchor="end">0.5</text><text x="19.94" y="234.51" text-anchor="end">1</text><text x="19.94" y="221.11" text-anchor="end">1.5</text><text x="19.94" y="207.71" text-anchor="end">2</text><text x="19.94" y="194.31" text-anchor="end">2.5</text><text x="19.94" y="180.91" text-anchor="end">3</text><text x="19.94" y="167.51" text-anchor="end">3.5</text><text x="19.94" y="154.11" text-anchor="end">4</text></g><text x="86.10" y="258.03" text-anchor="middle" font-size="4.32" font-weight="bold" fill="#1a1a1a" stroke="#1a1a1a" stroke-width="0.12">SOC [p.u.]</text><text transform="translate(10.17,195.25) rotate(-90)" x="0" y="1.56" text-anchor="middle" font-size="4.32" font-weight="bold" fill="#1a1a1a" stroke="#1a1a1a" stroke-width="0.12">Voltage [V]</text><text x="86.10" y="141.88" text-anchor="middle" font-size="4.32" font-weight="bold" fill="#111" stroke="#111" stroke-width="0.14">B0006 - cycle 160 prediction at cycle 42</text><text x="111.72" y="152.10" font-size="3.59" fill="#2a2a2a" stroke="#2a2a2a" stroke-width="0.14">Cycle 160 - Measured</text><text x="111.72" y="156.78" font-size="3.59" fill="#2a2a2a" stroke="#2a2a2a" stroke-width="0.14">Cycle 160 - Prediction</text><text x="111.72" y="161.46" font-size="3.59" fill="#2a2a2a" stroke="#2a2a2a" stroke-width="0.14">Cycle 1 - Model</text>
<g font-size="4.28" fill="#4a4a4a" stroke="#4a4a4a" stroke-width="0.08"><text x="177.90" y="252.12" text-anchor="middle">1</text><text x="190.89" y="252.12" text-anchor="middle">0.9</text><text x="203.88" y="252.12" text-anchor="middle">0.8</text><text x="216.87" y="252.12" text-anchor="middle">0.7</text><text x="229.86" y="252.12" text-anchor="middle">0.6</text><text x="242.85" y="252.12" text-anchor="middle">0.5</text><text x="255.84" y="252.12" text-anchor="middle">0.4</text><text x="268.83" y="252.12" text-anchor="middle">0.3</text><text x="281.82" y="252.12" text-anchor="middle">0.2</text><text x="294.81" y="252.12" text-anchor="middle">0.1</text><text x="307.80" y="252.12" text-anchor="middle">0</text><text x="176.33" y="247.82" text-anchor="end">0.5</text><text x="176.33" y="234.32" text-anchor="end">1</text><text x="176.33" y="220.82" text-anchor="end">1.5</text><text x="176.33" y="207.32" text-anchor="end">2</text><text x="176.33" y="193.82" text-anchor="end">2.5</text><text x="176.33" y="180.32" text-anchor="end">3</text><text x="176.33" y="166.82" text-anchor="end">3.5</text><text x="176.33" y="153.32" text-anchor="end">4</text></g><text x="242.85" y="257.99" text-anchor="middle" font-size="4.35" font-weight="bold" fill="#1a1a1a" stroke="#1a1a1a" stroke-width="0.12">SOC [p.u.]</text><text transform="translate(166.51,195.20) rotate(-90)" x="0" y="1.57" text-anchor="middle" font-size="4.35" font-weight="bold" fill="#1a1a1a" stroke="#1a1a1a" stroke-width="0.12">Voltage [V]</text><text x="242.85" y="141.87" text-anchor="middle" font-size="4.35" font-weight="bold" fill="#111" stroke="#111" stroke-width="0.14">B0006 - cycle 160 prediction at cycle 84</text><text x="268.61" y="151.34" font-size="3.61" fill="#2a2a2a" stroke="#2a2a2a" stroke-width="0.14">Cycle 160 - Measured</text><text x="268.61" y="156.04" font-size="3.61" fill="#2a2a2a" stroke="#2a2a2a" stroke-width="0.14">Cycle 160 - Prediction</text><text x="268.61" y="160.75" font-size="3.61" fill="#2a2a2a" stroke="#2a2a2a" stroke-width="0.14">Cycle 1 - Model</text>
<g font-size="4.22" fill="#4a4a4a" stroke="#4a4a4a" stroke-width="0.08"><text x="335.40" y="251.42" text-anchor="middle">1</text><text x="348.18" y="251.42" text-anchor="middle">0.9</text><text x="360.96" y="251.42" text-anchor="middle">0.8</text><text x="373.74" y="251.42" text-anchor="middle">0.7</text><text x="386.52" y="251.42" text-anchor="middle">0.6</text><text x="399.30" y="251.42" text-anchor="middle">0.5</text><text x="412.08" y="251.42" text-anchor="middle">0.4</text><text x="424.86" y="251.42" text-anchor="middle">0.3</text><text x="437.64" y="251.42" text-anchor="middle">0.2</text><text x="450.42" y="251.42" text-anchor="middle">0.1</text><text x="463.20" y="251.42" text-anchor="middle">0</text><text x="333.86" y="247.20" text-anchor="end">0.5</text><text x="333.86" y="233.94" text-anchor="end">1</text><text x="333.86" y="220.68" text-anchor="end">1.5</text><text x="333.86" y="207.43" text-anchor="end">2</text><text x="333.86" y="194.17" text-anchor="end">2.5</text><text x="333.86" y="180.91" text-anchor="end">3</text><text x="333.86" y="167.65" text-anchor="end">3.5</text><text x="333.86" y="154.40" text-anchor="end">4</text></g><text x="399.30" y="257.20" text-anchor="middle" font-size="4.28" font-weight="bold" fill="#1a1a1a" stroke="#1a1a1a" stroke-width="0.12">SOC [p.u.]</text><text transform="translate(324.19,194.90) rotate(-90)" x="0" y="1.54" text-anchor="middle" font-size="4.28" font-weight="bold" fill="#1a1a1a" stroke="#1a1a1a" stroke-width="0.12">Voltage [V]</text><text x="399.30" y="142.71" text-anchor="middle" font-size="4.28" font-weight="bold" fill="#111" stroke="#111" stroke-width="0.14">B0006 - cycle 160 prediction at cycle 134</text><text x="424.64" y="152.43" font-size="3.55" fill="#2a2a2a" stroke="#2a2a2a" stroke-width="0.14">Cycle 160 - Measured</text><text x="424.64" y="157.06" font-size="3.55" fill="#2a2a2a" stroke="#2a2a2a" stroke-width="0.14">Cycle 160 - Prediction</text><text x="424.64" y="161.68" font-size="3.55" fill="#2a2a2a" stroke="#2a2a2a" stroke-width="0.14">Cycle 1 - Model</text>
<g font-size="4.31" fill="#4a4a4a" stroke="#4a4a4a" stroke-width="0.08"><text x="21.70" y="386.36" text-anchor="middle">1</text><text x="34.77" y="386.36" text-anchor="middle">0.9</text><text x="47.84" y="386.36" text-anchor="middle">0.8</text><text x="60.91" y="386.36" text-anchor="middle">0.7</text><text x="73.98" y="386.36" text-anchor="middle">0.6</text><text x="87.05" y="386.36" text-anchor="middle">0.5</text><text x="100.12" y="386.36" text-anchor="middle">0.4</text><text x="113.19" y="386.36" text-anchor="middle">0.3</text><text x="126.26" y="386.36" text-anchor="middle">0.2</text><text x="139.33" y="386.36" text-anchor="middle">0.1</text><text x="152.40" y="386.36" text-anchor="middle">0</text><text x="20.12" y="382.03" text-anchor="end">0.5</text><text x="20.12" y="368.73" text-anchor="end">1</text><text x="20.12" y="355.43" text-anchor="end">1.5</text><text x="20.12" y="342.13" text-anchor="end">2</text><text x="20.12" y="328.83" text-anchor="end">2.5</text><text x="20.12" y="315.53" text-anchor="end">3</text><text x="20.12" y="302.23" text-anchor="end">3.5</text><text x="20.12" y="288.93" text-anchor="end">4</text></g><text x="87.05" y="392.27" text-anchor="middle" font-size="4.37" font-weight="bold" fill="#1a1a1a" stroke="#1a1a1a" stroke-width="0.12">SOC [p.u.]</text><text transform="translate(10.24,329.10) rotate(-90)" x="0" y="1.57" text-anchor="middle" font-size="4.37" font-weight="bold" fill="#1a1a1a" stroke="#1a1a1a" stroke-width="0.12">Voltage [V]</text><text x="87.05" y="275.45" text-anchor="middle" font-size="4.37" font-weight="bold" fill="#111" stroke="#111" stroke-width="0.14">B0007 - cycle 160 prediction at cycle 42</text><text x="112.97" y="284.98" font-size="3.63" fill="#2a2a2a" stroke="#2a2a2a" stroke-width="0.14">Cycle 160 - Measured</text><text x="112.97" y="289.72" font-size="3.63" fill="#2a2a2a" stroke="#2a2a2a" stroke-width="0.14">Cycle 160 - Prediction</text><text x="112.97" y="294.45" font-size="3.63" fill="#2a2a2a" stroke="#2a2a2a" stroke-width="0.14">Cycle 1 - Model</text>
<g font-size="4.38" fill="#4a4a4a" stroke="#4a4a4a" stroke-width="0.08"><text x="177.70" y="386.76" text-anchor="middle">1</text><text x="190.98" y="386.76" text-anchor="middle">0.9</text><text x="204.26" y="386.76" text-anchor="middle">0.8</text><text x="217.54" y="386.76" text-anchor="middle">0.7</text><text x="230.82" y="386.76" text-anchor="middle">0.6</text><text x="244.10" y="386.76" text-anchor="middle">0.5</text><text x="257.38" y="386.76" text-anchor="middle">0.4</text><text x="270.66" y="386.76" text-anchor="middle">0.3</text><text x="283.94" y="386.76" text-anchor="middle">0.2</text><text x="297.22" y="386.76" text-anchor="middle">0.1</text><text x="310.50" y="386.76" text-anchor="middle">0</text><text x="176.10" y="382.36" text-anchor="end">0.5</text><text x="176.10" y="368.80" text-anchor="end">1</text><text x="176.10" y="355.24" text-anchor="end">1.5</text><text x="176.10" y="341.68" text-anchor="end">2</text><text x="176.10" y="328.13" text-anchor="end">2.5</text><text x="176.10" y="314.57" text-anchor="end">3</text><text x="176.10" y="301.01" text-anchor="end">3.5</text><text x="176.10" y="287.46" text-anchor="end">4</text></g><text x="244.10" y="392.76" text-anchor="middle" font-size="4.44" font-weight="bold" fill="#1a1a1a" stroke="#1a1a1a" stroke-width="0.12">SOC [p.u.]</text><text transform="translate(166.05,328.40) rotate(-90)" x="0" y="1.60" text-anchor="middle" font-size="4.44" font-weight="bold" fill="#1a1a1a" stroke="#1a1a1a" stroke-width="0.12">Voltage [V]</text><text x="244.10" y="273.71" text-anchor="middle" font-size="4.44" font-weight="bold" fill="#111" stroke="#111" stroke-width="0.14">B0007 - cycle 160 prediction at cycle 84</text><text x="270.44" y="284.00" font-size="3.69" fill="#2a2a2a" stroke="#2a2a2a" stroke-width="0.14">Cycle 160 - Measured</text><text x="270.44" y="288.80" font-size="3.69" fill="#2a2a2a" stroke="#2a2a2a" stroke-width="0.14">Cycle 160 - Prediction</text><text x="270.44" y="293.61" font-size="3.69" fill="#2a2a2a" stroke="#2a2a2a" stroke-width="0.14">Cycle 1 - Model</text>
<g font-size="4.30" fill="#4a4a4a" stroke="#4a4a4a" stroke-width="0.08"><text x="335.20" y="385.94" text-anchor="middle">1</text><text x="348.23" y="385.94" text-anchor="middle">0.9</text><text x="361.26" y="385.94" text-anchor="middle">0.8</text><text x="374.29" y="385.94" text-anchor="middle">0.7</text><text x="387.32" y="385.94" text-anchor="middle">0.6</text><text x="400.35" y="385.94" text-anchor="middle">0.5</text><text x="413.38" y="385.94" text-anchor="middle">0.4</text><text x="426.41" y="385.94" text-anchor="middle">0.3</text><text x="439.44" y="385.94" text-anchor="middle">0.2</text><text x="452.47" y="385.94" text-anchor="middle">0.1</text><text x="465.50" y="385.94" text-anchor="middle">0</text><text x="333.63" y="381.63" text-anchor="end">0.5</text><text x="333.63" y="368.38" text-anchor="end">1</text><text x="333.63" y="355.14" text-anchor="end">1.5</text><text x="333.63" y="341.90" text-anchor="end">2</text><text x="333.63" y="328.65" text-anchor="end">2.5</text><text x="333.63" y="315.41" text-anchor="end">3</text><text x="333.63" y="302.17" text-anchor="end">3.5</text><text x="333.63" y="288.93" text-anchor="end">4</text></g><text x="400.35" y="391.83" text-anchor="middle" font-size="4.36" font-weight="bold" fill="#1a1a1a" stroke="#1a1a1a" stroke-width="0.12">SOC [p.u.]</text><text transform="translate(323.77,328.60) rotate(-90)" x="0" y="1.57" text-anchor="middle" font-size="4.36" font-weight="bold" fill="#1a1a1a" stroke="#1a1a1a" stroke-width="0.12">Voltage [V]</text><text x="400.35" y="274.86" text-anchor="middle" font-size="4.36" font-weight="bold" fill="#111" stroke="#111" stroke-width="0.14">B0007 - cycle 160 prediction at cycle 134</text><text x="426.19" y="284.96" font-size="3.62" fill="#2a2a2a" stroke="#2a2a2a" stroke-width="0.14">Cycle 160 - Measured</text><text x="426.19" y="289.68" font-size="3.62" fill="#2a2a2a" stroke="#2a2a2a" stroke-width="0.14">Cycle 160 - Prediction</text><text x="426.19" y="294.40" font-size="3.62" fill="#2a2a2a" stroke="#2a2a2a" stroke-width="0.14">Cycle 1 - Model</text>
<g font-size="4.17" fill="#4a4a4a" stroke="#4a4a4a" stroke-width="0.08"><text x="22.50" y="518.25" text-anchor="middle">1</text><text x="35.14" y="518.25" text-anchor="middle">0.9</text><text x="47.78" y="518.25" text-anchor="middle">0.8</text><text x="60.42" y="518.25" text-anchor="middle">0.7</text><text x="73.06" y="518.25" text-anchor="middle">0.6</text><text x="85.70" y="518.25" text-anchor="middle">0.5</text><text x="98.34" y="518.25" text-anchor="middle">0.4</text><text x="110.98" y="518.25" text-anchor="middle">0.3</text><text x="123.62" y="518.25" text-anchor="middle">0.2</text><text x="136.26" y="518.25" text-anchor="middle">0.1</text><text x="148.90" y="518.25" text-anchor="middle">0</text><text x="20.97" y="514.08" text-anchor="end">0.5</text><text x="20.97" y="501.15" text-anchor="end">1</text><text x="20.97" y="488.22" text-anchor="end">1.5</text><text x="20.97" y="475.29" text-anchor="end">2</text><text x="20.97" y="462.37" text-anchor="end">2.5</text><text x="20.97" y="449.44" text-anchor="end">3</text><text x="20.97" y="436.51" text-anchor="end">3.5</text><text x="20.97" y="423.58" text-anchor="end">4</text></g><text x="85.70" y="523.97" text-anchor="middle" font-size="4.23" font-weight="bold" fill="#1a1a1a" stroke="#1a1a1a" stroke-width="0.12">SOC [p.u.]</text><text transform="translate(11.42,462.20) rotate(-90)" x="0" y="1.52" text-anchor="middle" font-size="4.23" font-weight="bold" fill="#1a1a1a" stroke="#1a1a1a" stroke-width="0.12">Voltage [V]</text><text x="85.70" y="410.24" text-anchor="middle" font-size="4.23" font-weight="bold" fill="#111" stroke="#111" stroke-width="0.14">B0018 - cycle 132 prediction at cycle 33</text><text x="110.77" y="420.25" font-size="3.51" fill="#2a2a2a" stroke="#2a2a2a" stroke-width="0.14">Cycle 132 - Measured</text><text x="110.77" y="424.83" font-size="3.51" fill="#2a2a2a" stroke="#2a2a2a" stroke-width="0.14">Cycle 132 - Prediction</text><text x="110.77" y="429.41" font-size="3.51" fill="#2a2a2a" stroke="#2a2a2a" stroke-width="0.14">Cycle 1 - Model</text>
<g font-size="4.34" fill="#4a4a4a" stroke="#4a4a4a" stroke-width="0.08"><text x="176.60" y="519.90" text-anchor="middle">1</text><text x="189.76" y="519.90" text-anchor="middle">0.9</text><text x="202.92" y="519.90" text-anchor="middle">0.8</text><text x="216.08" y="519.90" text-anchor="middle">0.7</text><text x="229.24" y="519.90" text-anchor="middle">0.6</text><text x="242.40" y="519.90" text-anchor="middle">0.5</text><text x="255.56" y="519.90" text-anchor="middle">0.4</text><text x="268.72" y="519.90" text-anchor="middle">0.3</text><text x="281.88" y="519.90" text-anchor="middle">0.2</text><text x="295.04" y="519.90" text-anchor="middle">0.1</text><text x="308.20" y="519.90" text-anchor="middle">0</text><text x="175.01" y="515.54" text-anchor="end">0.5</text><text x="175.01" y="502.20" text-anchor="end">1</text><text x="175.01" y="488.86" text-anchor="end">1.5</text><text x="175.01" y="475.51" text-anchor="end">2</text><text x="175.01" y="462.17" text-anchor="end">2.5</text><text x="175.01" y="448.83" text-anchor="end">3</text><text x="175.01" y="435.48" text-anchor="end">3.5</text><text x="175.01" y="422.14" text-anchor="end">4</text></g><text x="242.40" y="525.85" text-anchor="middle" font-size="4.40" font-weight="bold" fill="#1a1a1a" stroke="#1a1a1a" stroke-width="0.12">SOC [p.u.]</text><text transform="translate(165.06,462.05) rotate(-90)" x="0" y="1.59" text-anchor="middle" font-size="4.40" font-weight="bold" fill="#1a1a1a" stroke="#1a1a1a" stroke-width="0.12">Voltage [V]</text><text x="242.40" y="407.83" text-anchor="middle" font-size="4.40" font-weight="bold" fill="#111" stroke="#111" stroke-width="0.14">B0018 - cycle 132 prediction at cycle 66</text><text x="268.50" y="418.63" font-size="3.65" fill="#2a2a2a" stroke="#2a2a2a" stroke-width="0.14">Cycle 132 - Measured</text><text x="268.50" y="423.40" font-size="3.65" fill="#2a2a2a" stroke="#2a2a2a" stroke-width="0.14">Cycle 132 - Prediction</text><text x="268.50" y="428.16" font-size="3.65" fill="#2a2a2a" stroke="#2a2a2a" stroke-width="0.14">Cycle 1 - Model</text>
<g font-size="4.25" fill="#4a4a4a" stroke="#4a4a4a" stroke-width="0.08"><text x="334.30" y="518.97" text-anchor="middle">1</text><text x="347.19" y="518.97" text-anchor="middle">0.9</text><text x="360.08" y="518.97" text-anchor="middle">0.8</text><text x="372.97" y="518.97" text-anchor="middle">0.7</text><text x="385.86" y="518.97" text-anchor="middle">0.6</text><text x="398.75" y="518.97" text-anchor="middle">0.5</text><text x="411.64" y="518.97" text-anchor="middle">0.4</text><text x="424.53" y="518.97" text-anchor="middle">0.3</text><text x="437.42" y="518.97" text-anchor="middle">0.2</text><text x="450.31" y="518.97" text-anchor="middle">0.1</text><text x="463.20" y="518.97" text-anchor="middle">0</text><text x="332.74" y="514.71" text-anchor="end">0.5</text><text x="332.74" y="501.60" text-anchor="end">1</text><text x="332.74" y="488.48" text-anchor="end">1.5</text><text x="332.74" y="475.37" text-anchor="end">2</text><text x="332.74" y="462.25" text-anchor="end">2.5</text><text x="332.74" y="449.14" text-anchor="end">3</text><text x="332.74" y="436.02" text-anchor="end">3.5</text><text x="332.74" y="422.91" text-anchor="end">4</text></g><text x="398.75" y="524.80" text-anchor="middle" font-size="4.31" font-weight="bold" fill="#1a1a1a" stroke="#1a1a1a" stroke-width="0.12">SOC [p.u.]</text><text transform="translate(323.00,462.45) rotate(-90)" x="0" y="1.55" text-anchor="middle" font-size="4.31" font-weight="bold" fill="#1a1a1a" stroke="#1a1a1a" stroke-width="0.12">Voltage [V]</text><text x="398.75" y="409.99" text-anchor="middle" font-size="4.31" font-weight="bold" fill="#111" stroke="#111" stroke-width="0.14">B0018 - cycle 132 prediction at cycle 105</text><text x="424.31" y="419.49" font-size="3.58" fill="#2a2a2a" stroke="#2a2a2a" stroke-width="0.14">Cycle 132 - Measured</text><text x="424.31" y="424.15" font-size="3.58" fill="#2a2a2a" stroke="#2a2a2a" stroke-width="0.14">Cycle 132 - Prediction</text><text x="424.31" y="428.82" font-size="3.58" fill="#2a2a2a" stroke="#2a2a2a" stroke-width="0.14">Cycle 1 - Model</text>
<text x="80.20" y="541.3" text-anchor="middle" font-family="'Liberation Serif', serif" font-weight="bold" font-size="9.3" fill="#111" stroke="#111" stroke-width="0.3">(a)</text>
<text x="237.30" y="541.3" text-anchor="middle" font-family="'Liberation Serif', serif" font-weight="bold" font-size="9.3" fill="#111" stroke="#111" stroke-width="0.3">(b)</text>
<text x="394.30" y="541.3" text-anchor="middle" font-family="'Liberation Serif', serif" font-weight="bold" font-size="9.3" fill="#111" stroke="#111" stroke-width="0.3">(c)</text>
</g>
</svg>
</body></html>
